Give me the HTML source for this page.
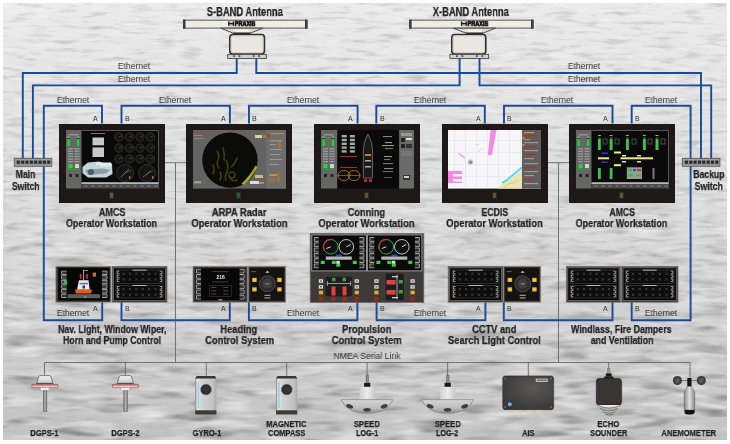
<!DOCTYPE html>
<html><head><meta charset="utf-8">
<style>
*{margin:0;padding:0;box-sizing:border-box}
html,body{width:730px;height:444px;overflow:hidden;background:#fff}
body{font-family:"Liberation Sans",sans-serif;position:relative}
.b,.r{position:absolute;white-space:nowrap;text-align:center;will-change:transform}
svg text{will-change:transform}
.b{font-weight:bold;color:#222;-webkit-text-stroke:0.25px #222}
.r{color:#333}
.abs{position:absolute}
#wrap{position:absolute;left:0;top:0;width:730px;height:444px;filter:blur(0.45px)}
svg{position:absolute;overflow:visible}
.mon{position:absolute;background:#1e1917;width:106px;height:79.5px;top:123.5px}
.mon svg{left:6px;top:6.5px;filter:blur(0.2px)}
.mbtn{position:absolute;left:50px;top:68.5px;width:5px;height:7px;background:#4a4a32;border:1px solid #2a2a20}
.pnl{position:absolute;top:266.3px;height:36px;background:#3b3836;border:1px solid #7a7774}
</style></head>
<body>
<div id="wrap">
<svg width="724" height="437" style="left:3px;top:3px">
<defs>
<linearGradient id="bgg" x1="0" y1="0" x2="0" y2="1">
<stop offset="0" stop-color="#ebebeb"/>
<stop offset="0.3" stop-color="#e2e2e2"/>
<stop offset="0.6" stop-color="#d6d6d6"/>
<stop offset="0.85" stop-color="#cacaca"/>
<stop offset="1" stop-color="#c2c2c2"/>
</linearGradient>
<linearGradient id="texT" x1="0" y1="0" x2="0" y2="1">
<stop offset="0" stop-color="#fff" stop-opacity="0.6"/>
<stop offset="0.6" stop-color="#fff" stop-opacity="0.7"/>
<stop offset="1" stop-color="#fff" stop-opacity="0.2"/>
</linearGradient>
<linearGradient id="texB" x1="0" y1="0" x2="0" y2="1">
<stop offset="0" stop-color="#fff" stop-opacity="0"/>
<stop offset="0.45" stop-color="#fff" stop-opacity="0.25"/>
<stop offset="1" stop-color="#fff" stop-opacity="1"/>
</linearGradient>
<mask id="mT"><rect width="724" height="437" fill="url(#texT)"/></mask>
<mask id="mB"><rect width="724" height="437" fill="url(#texB)"/></mask>
<filter id="fD" x="0" y="0" width="100%" height="100%">
<feTurbulence type="fractalNoise" baseFrequency="0.04 0.22" numOctaves="4" seed="3"/>
<feColorMatrix type="matrix" values="0 0 0 0 0  0 0 0 0 0  0 0 0 0 0  -2.4 0 0 0 1.2"/>
</filter>
<filter id="fL" x="0" y="0" width="100%" height="100%">
<feTurbulence type="fractalNoise" baseFrequency="0.038 0.2" numOctaves="4" seed="11"/>
<feColorMatrix type="matrix" values="0 0 0 0 1  0 0 0 0 1  0 0 0 0 1  2.4 0 0 0 -1.2"/>
</filter>
<filter id="fD2" x="0" y="0" width="100%" height="100%">
<feTurbulence type="fractalNoise" baseFrequency="0.022 0.11" numOctaves="2" seed="21"/>
<feColorMatrix type="matrix" values="0 0 0 0 0  0 0 0 0 0  0 0 0 0 0  -2.6 0 0 0 1.25"/>
</filter>
<filter id="fL2" x="0" y="0" width="100%" height="100%">
<feTurbulence type="fractalNoise" baseFrequency="0.024 0.12" numOctaves="2" seed="5"/>
<feColorMatrix type="matrix" values="0 0 0 0 1  0 0 0 0 1  0 0 0 0 1  2.6 0 0 0 -1.25"/>
</filter>
</defs>
<rect width="724" height="437" fill="url(#bgg)"/>
<g mask="url(#mT)">
<rect width="724" height="437" filter="url(#fD)" opacity="0.25"/>
<rect width="724" height="437" filter="url(#fL)" opacity="0.55"/>
</g>
<g mask="url(#mB)">
<rect width="724" height="437" filter="url(#fD2)" opacity="0.4"/>
<rect width="724" height="437" filter="url(#fL2)" opacity="0.6"/>
</g>
</svg>
<svg width="730" height="444" style="left:0;top:0" fill="none">
<g stroke="#666" stroke-width="0.9">
<path d="M164.7 162.7H186.2M175.5 162.7V362.5M546.8 162.7H569M558.5 162.7V362.5"/>
<path d="M44.5 362.5H690.5"/>
<path d="M44.5 362.5V375.5M125.3 362.5V375.5M206.3 362.5V376M286.7 362.5V376M528.3 362.5V376M690 362.5V377.5M367.1 362.5V376M447.6 362.5V376"/>
</g>
<g stroke="#1a4a93" stroke-width="1.9">
<path d="M22.8 158.3V73H236.7V58.5"/>
<path d="M256.3 58.5V73H701V158.3"/>
<path d="M32.9 158.3V85.4H459.6V58.5"/>
<path d="M479.5 58.5V85.4H711.2V158.3"/>
<path d="M43.8 158.3V105.8H102V123.5"/>
<path d="M121.5 123.5V105.8H229.9V123.5"/>
<path d="M249 123.5V105.8H357.6V123.5"/>
<path d="M376.3 123.5V105.8H484.8V123.5"/>
<path d="M504 123.5V105.8H612.5V123.5"/>
<path d="M631.7 123.5V105.8H690.6V158.3"/>
<path d="M43.8 166.3V320.3H102.2V302"/>
<path d="M121.5 302V320.3H229.8V302"/>
<path d="M248.9 302V320.3H357.4V302.6"/>
<path d="M376.6 302.6V320.3H485.4V302"/>
<path d="M503.8 302V320.3H612.5V302"/>
<path d="M631.7 302V320.3H690.6V166.3"/>
</g>
</svg>
<svg width="730" height="444" style="left:0;top:0">
<rect x="183.0" y="19.6" width="124.5" height="9.1" fill="#eeece5"/>
<rect x="183.6" y="20.2" width="123.3" height="7.9" fill="none" stroke="#6e6e6e" stroke-width="1.2"/>
<rect x="183.0" y="19.6" width="2.5" height="9.1" fill="#3a3a3a"/>
<rect x="305.0" y="19.6" width="2.5" height="9.1" fill="#3a3a3a"/>
<rect x="228.0" y="21" width="28" height="5.6" fill="#c9c5bd"/>
<text x="234.8" y="26.4" font-size="7.4" font-weight="bold" fill="#141414" stroke="#141414" stroke-width="0.7" textLength="20.5" lengthAdjust="spacingAndGlyphs" font-family="Liberation Sans">PRAXIS</text>
<path d="M228.8 21.6V25.8M228.8 23.7H233.4M233.4 21.6V25.8" stroke="#1a1a1a" stroke-width="1.3"/>
<path d="M220.8 28.2H262.8L250.2 33.2H233.2Z" fill="#dcd9d2" stroke="#3c3c3c" stroke-width="0.9"/>
<rect x="234.2" y="29.3" width="15" height="3" fill="#f2f0ea"/>
<rect x="233.2" y="32.6" width="17" height="1.6" fill="#2e2e2e"/>
<rect x="229.8" y="34.5" width="34.6" height="19.6" rx="3" fill="#ebe8e2" stroke="#2e2e2e" stroke-width="1.6"/>
<rect x="231.2" y="36" width="31.8" height="16.6" rx="2" fill="none" stroke="#c9c6bf" stroke-width="0.8"/>
<rect x="227.7" y="54.4" width="38.7" height="4.1" fill="#cfcfcf" stroke="#4a4a4a" stroke-width="0.9"/>
<rect x="233.2" y="55.3" width="1.6" height="1.6" fill="#333"/><rect x="238.7" y="55.3" width="1.6" height="1.6" fill="#333"/>
<rect x="252.8" y="55.3" width="1.6" height="1.6" fill="#333"/><rect x="258.3" y="55.3" width="1.6" height="1.6" fill="#333"/>
<rect x="409.1" y="19.6" width="124.4" height="9.1" fill="#eeece5"/>
<rect x="409.7" y="20.2" width="123.2" height="7.9" fill="none" stroke="#6e6e6e" stroke-width="1.2"/>
<rect x="409.1" y="19.6" width="2.5" height="9.1" fill="#3a3a3a"/>
<rect x="531.0" y="19.6" width="2.5" height="9.1" fill="#3a3a3a"/>
<rect x="460.8" y="21" width="28" height="5.6" fill="#c9c5bd"/>
<text x="467.6" y="26.4" font-size="7.4" font-weight="bold" fill="#141414" stroke="#141414" stroke-width="0.7" textLength="20.5" lengthAdjust="spacingAndGlyphs" font-family="Liberation Sans">PRAXIS</text>
<path d="M461.6 21.6V25.8M461.6 23.7H466.2M466.2 21.6V25.8" stroke="#1a1a1a" stroke-width="1.3"/>
<path d="M453.5 28.2H495.5L483.0 33.2H466.0Z" fill="#dcd9d2" stroke="#3c3c3c" stroke-width="0.9"/>
<rect x="467.0" y="29.3" width="15" height="3" fill="#f2f0ea"/>
<rect x="466.0" y="32.6" width="17" height="1.6" fill="#2e2e2e"/>
<rect x="451.8" y="34.5" width="34.0" height="19.6" rx="3" fill="#ebe8e2" stroke="#2e2e2e" stroke-width="1.6"/>
<rect x="453.2" y="36" width="31.2" height="16.6" rx="2" fill="none" stroke="#c9c6bf" stroke-width="0.8"/>
<rect x="449.9" y="54.4" width="38.7" height="4.1" fill="#cfcfcf" stroke="#4a4a4a" stroke-width="0.9"/>
<rect x="456.1" y="55.3" width="1.6" height="1.6" fill="#333"/><rect x="461.6" y="55.3" width="1.6" height="1.6" fill="#333"/>
<rect x="476.0" y="55.3" width="1.6" height="1.6" fill="#333"/><rect x="481.5" y="55.3" width="1.6" height="1.6" fill="#333"/>
<rect x="14.3" y="158.3" width="37.5" height="8" fill="#8d8d8d" stroke="#5a5a5a" stroke-width="0.9"/>
<rect x="15.3" y="159.3" width="35.5" height="6" fill="none" stroke="#a8a8a8" stroke-width="0.6"/>
<rect x="16.8" y="160.7" width="3" height="3" fill="#262626"/>
<rect x="21.2" y="160.7" width="3" height="3" fill="#262626"/>
<rect x="25.5" y="160.7" width="3" height="3" fill="#262626"/>
<rect x="29.9" y="160.7" width="3" height="3" fill="#262626"/>
<rect x="34.2" y="160.7" width="3" height="3" fill="#262626"/>
<rect x="38.6" y="160.7" width="3" height="3" fill="#262626"/>
<rect x="42.9" y="160.7" width="3" height="3" fill="#262626"/>
<rect x="47.3" y="160.7" width="3" height="3" fill="#262626"/>
<rect x="682.4" y="158.3" width="37.5" height="8" fill="#8d8d8d" stroke="#5a5a5a" stroke-width="0.9"/>
<rect x="683.4" y="159.3" width="35.5" height="6" fill="none" stroke="#a8a8a8" stroke-width="0.6"/>
<rect x="684.9" y="160.7" width="3" height="3" fill="#262626"/>
<rect x="689.3" y="160.7" width="3" height="3" fill="#262626"/>
<rect x="693.6" y="160.7" width="3" height="3" fill="#262626"/>
<rect x="698.0" y="160.7" width="3" height="3" fill="#262626"/>
<rect x="702.3" y="160.7" width="3" height="3" fill="#262626"/>
<rect x="706.7" y="160.7" width="3" height="3" fill="#262626"/>
<rect x="711.0" y="160.7" width="3" height="3" fill="#262626"/>
<rect x="715.4" y="160.7" width="3" height="3" fill="#262626"/>
</svg><div class="mon" style="left:59.0px"><svg width="93.0" height="58.6" style="left:6.5px;top:6.4px"><rect width="93.0" height="58.6" fill="#0a0a0a"/>
<rect x="0" y="0" width="15.5" height="58.6" fill="#666"/>
<rect x="2.5" y="4.3" width="10" height="1" fill="#aaa"/>
<rect x="1.3" y="6.5" width="2.6" height="10" fill="#1d3a1d"/>
<rect x="1.3" y="9" width="2.6" height="7.5" fill="#30c83c"/>
<rect x="1.3" y="6.5" width="2.6" height="1.2" fill="#d8b8b8"/>
<rect x="10.8" y="6.5" width="2.6" height="10" fill="#1d3a1d"/>
<rect x="10.8" y="9" width="2.6" height="7.5" fill="#30c83c"/>
<rect x="10.8" y="6.5" width="2.6" height="1.2" fill="#d8b8b8"/>
<rect x="2" y="18.0" width="5" height="1.3" fill="#9a9a9a"/><rect x="8.5" y="18.0" width="5" height="1.3" fill="#9a9a9a"/>
<rect x="2" y="20.6" width="5" height="1.3" fill="#9a9a9a"/><rect x="8.5" y="20.6" width="5" height="1.3" fill="#9a9a9a"/>
<rect x="2" y="23.2" width="5" height="1.3" fill="#9a9a9a"/><rect x="8.5" y="23.2" width="5" height="1.3" fill="#9a9a9a"/>
<rect x="2" y="25.8" width="5" height="1.3" fill="#9a9a9a"/><rect x="8.5" y="25.8" width="5" height="1.3" fill="#9a9a9a"/>
<rect x="2" y="28.4" width="5" height="1.3" fill="#9a9a9a"/><rect x="8.5" y="28.4" width="5" height="1.3" fill="#9a9a9a"/>
<rect x="2" y="31.0" width="5" height="1.3" fill="#9a9a9a"/><rect x="8.5" y="31.0" width="5" height="1.3" fill="#9a9a9a"/>
<rect x="2.5" y="34" width="4" height="4" fill="#2fd040"/><rect x="9" y="34" width="4" height="4" fill="#d8d0d0"/>
<rect x="2" y="38.5" width="5" height="1.5" fill="#2fa040"/><rect x="8.5" y="38.5" width="5" height="1.5" fill="#2fa040"/>
<rect x="3" y="44" width="3" height="3" fill="#222"/><rect x="9.5" y="44" width="3" height="3" fill="#222"/>
<rect x="15.5" y="0" width="77.5" height="1" fill="#555"/><rect x="92" y="0" width="1" height="58.6" fill="#555"/>
<rect x="26.5" y="7.5" width="11.5" height="7.8" fill="#c8c8c8"/><rect x="26.5" y="17.4" width="11.5" height="9.6" fill="#c8c8c8"/>
<rect x="25" y="3" width="14" height="1" fill="#777"/>
<path d="M16.5 37 L22 32.5 L33 31.5 L37 33 L46 33.5 L46.5 44 L40 47.5 L22 47.5 L16.5 43Z" fill="#c4d4dc"/><path d="M30 32.5H45V35H30Z" fill="#e4ecf0"/>
<path d="M19 40 L36 38.5 L44 40 L40 43.5 L22 45Z" fill="#8a9ca6"/><circle cx="25" cy="42" r="3" fill="#4e5c64"/><path d="M34 36H45" stroke="#fff" stroke-width="0.8"/>
<circle cx="53.0" cy="7.0" r="4.2" fill="#151515" stroke="#3e3e36" stroke-width="0.7"/><path d="M53.0 7.0L55.9 5.7" stroke="#807050" stroke-width="0.5"/>
<circle cx="63.5" cy="7.0" r="4.2" fill="#151515" stroke="#3e3e36" stroke-width="0.7"/><path d="M63.5 7.0L66.4 5.7" stroke="#807050" stroke-width="0.5"/>
<circle cx="74.0" cy="7.0" r="4.2" fill="#151515" stroke="#3e3e36" stroke-width="0.7"/><path d="M74.0 7.0L76.9 5.7" stroke="#807050" stroke-width="0.5"/>
<circle cx="84.5" cy="7.0" r="4.2" fill="#151515" stroke="#3e3e36" stroke-width="0.7"/><path d="M84.5 7.0L87.4 5.7" stroke="#807050" stroke-width="0.5"/>
<circle cx="53.0" cy="18.0" r="4.2" fill="#151515" stroke="#3e3e36" stroke-width="0.7"/><path d="M53.0 18.0L55.9 16.7" stroke="#807050" stroke-width="0.5"/>
<circle cx="63.5" cy="18.0" r="4.2" fill="#151515" stroke="#3e3e36" stroke-width="0.7"/><path d="M63.5 18.0L66.4 16.7" stroke="#807050" stroke-width="0.5"/>
<circle cx="74.0" cy="18.0" r="4.2" fill="#151515" stroke="#3e3e36" stroke-width="0.7"/><path d="M74.0 18.0L76.9 16.7" stroke="#807050" stroke-width="0.5"/>
<circle cx="84.5" cy="18.0" r="4.2" fill="#151515" stroke="#3e3e36" stroke-width="0.7"/><path d="M84.5 18.0L87.4 16.7" stroke="#807050" stroke-width="0.5"/>
<circle cx="53.0" cy="29.0" r="4.2" fill="#151515" stroke="#3e3e36" stroke-width="0.7"/><path d="M53.0 29.0L55.9 27.7" stroke="#807050" stroke-width="0.5"/>
<circle cx="63.5" cy="29.0" r="4.2" fill="#151515" stroke="#3e3e36" stroke-width="0.7"/><path d="M63.5 29.0L66.4 27.7" stroke="#807050" stroke-width="0.5"/>
<circle cx="74.0" cy="29.0" r="4.2" fill="#151515" stroke="#3e3e36" stroke-width="0.7"/><path d="M74.0 29.0L76.9 27.7" stroke="#807050" stroke-width="0.5"/>
<circle cx="84.5" cy="29.0" r="4.2" fill="#151515" stroke="#3e3e36" stroke-width="0.7"/><path d="M84.5 29.0L87.4 27.7" stroke="#807050" stroke-width="0.5"/>
<circle cx="59.0" cy="43.0" r="8.5" fill="#151515" stroke="#3e3e36" stroke-width="0.7"/><path d="M59.0 43.0L65.0 40.5" stroke="#807050" stroke-width="0.5"/>
<circle cx="81.0" cy="43.0" r="8.5" fill="#151515" stroke="#3e3e36" stroke-width="0.7"/><path d="M81.0 43.0L87.0 40.5" stroke="#807050" stroke-width="0.5"/>
<path d="M55 47L63 39M77 47L85 41" stroke="#a09060" stroke-width="0.7"/><rect x="63" y="46" width="1.5" height="3" fill="#c06020"/><rect x="86" y="46" width="1.5" height="3" fill="#c06020"/>
<rect x="15.5" y="52.2" width="77.0" height="1.8" fill="#b5b5b5"/>
<rect x="15.5" y="54" width="77.0" height="4.6" fill="#4a4a4a"/>
<rect x="18.5" y="55.5" width="3" height="1" fill="#888"/>
<rect x="25.5" y="55.5" width="3" height="1" fill="#888"/>
<rect x="32.5" y="55.5" width="3" height="1" fill="#888"/>
<rect x="39.5" y="55.5" width="3" height="1" fill="#888"/>
<rect x="46.5" y="55.5" width="3" height="1" fill="#888"/>
<rect x="53.5" y="55.5" width="3" height="1" fill="#888"/>
<rect x="60.5" y="55.5" width="3" height="1" fill="#888"/>
<rect x="67.5" y="55.5" width="3" height="1" fill="#888"/>
<rect x="74.5" y="55.5" width="3" height="1" fill="#888"/>
<rect x="81.5" y="55.5" width="3" height="1" fill="#888"/>
<rect x="88.5" y="55.5" width="3" height="1" fill="#888"/></svg><div class="mbtn" style="background:#5a5a38"></div></div>
<div class="mon" style="left:186.2px"><svg width="93.0" height="58.6" style="left:6.5px;top:6.4px"><rect width="93.0" height="58.6" fill="#636363"/>
<rect x="73.3" y="0" width="19.7" height="58.6" fill="#6e6e6e"/>
<circle cx="36.9" cy="30.1" r="27.7" fill="#0b0b08"/>
<g fill="none" stroke="#48480c" stroke-width="1.5" stroke-linecap="round" opacity="0.9">
<path d="M24 21 Q27 25 25 30 Q23 34 26 38"/><path d="M30 18 Q32 24 31 30"/><path d="M33 30 Q36 36 34 42 Q31 47 33 50"/><path d="M20 35 Q22 40 20 44"/><path d="M38 37 Q42 34 44 28"/><path d="M37 48 Q40 52 44 50"/><path d="M27 42 Q29 46 27 50"/>
</g>
<circle cx="39" cy="45" r="3" fill="none" stroke="#4a4a0c" stroke-width="1.2"/>
<path d="M51 55 Q59 48 64.3 37 L62.5 35.5 Q57 46 48.5 53.5Z" fill="#a8a820"/>
<rect x="62" y="5" width="7" height="3" fill="#d8d0a0"/><rect x="70" y="5" width="3" height="3" fill="#b08030"/><rect x="74" y="4.5" width="3" height="3" fill="#a04030"/><rect x="78" y="3" width="13" height="1.2" fill="#a89060"/>
<rect x="77" y="10" width="12" height="1.5" fill="#a89070"/><rect x="85" y="12" width="3" height="6" fill="#b07040"/><rect x="77" y="14" width="6" height="1" fill="#999"/><rect x="77" y="19" width="12" height="1" fill="#999"/><rect x="77" y="24" width="10" height="1" fill="#999"/><rect x="77" y="29" width="12" height="1" fill="#999"/><rect x="77" y="34" width="9" height="1" fill="#999"/>
<rect x="62" y="45" width="8" height="3" fill="#c8b890"/><rect x="76" y="44" width="8" height="2" fill="#b89060"/><rect x="84" y="42" width="3" height="10" fill="#a87030"/><rect x="57" y="51" width="9" height="3" fill="#ddd"/><rect x="76" y="48" width="6" height="5" fill="#987040"/><rect x="66" y="52" width="5" height="2" fill="#b09060"/>
<rect x="1" y="2" width="10" height="1.5" fill="#905050"/><rect x="1" y="5" width="8" height="1" fill="#888"/><rect x="1" y="8" width="10" height="1" fill="#888"/><rect x="1" y="51" width="7" height="2.5" fill="#999"/></svg><div class="mbtn" style="background:#2a5a30"></div></div>
<div class="mon" style="left:314.0px"><svg width="93.0" height="58.6" style="left:6.5px;top:6.4px"><rect width="93.0" height="58.6" fill="#0a0a0a"/>
<rect x="0" y="0" width="16.2" height="58.6" fill="#666"/>
<rect x="2.5" y="4.3" width="10" height="1" fill="#aaa"/>
<rect x="1.3" y="6.5" width="2.6" height="10" fill="#1d3a1d"/>
<rect x="1.3" y="9" width="2.6" height="7.5" fill="#30c83c"/>
<rect x="1.3" y="6.5" width="2.6" height="1.2" fill="#d8b8b8"/>
<rect x="10.8" y="6.5" width="2.6" height="10" fill="#1d3a1d"/>
<rect x="10.8" y="9" width="2.6" height="7.5" fill="#30c83c"/>
<rect x="10.8" y="6.5" width="2.6" height="1.2" fill="#d8b8b8"/>
<rect x="2" y="18.0" width="5" height="1.3" fill="#9a9a9a"/><rect x="8.5" y="18.0" width="5" height="1.3" fill="#9a9a9a"/>
<rect x="2" y="20.6" width="5" height="1.3" fill="#9a9a9a"/><rect x="8.5" y="20.6" width="5" height="1.3" fill="#9a9a9a"/>
<rect x="2" y="23.2" width="5" height="1.3" fill="#9a9a9a"/><rect x="8.5" y="23.2" width="5" height="1.3" fill="#9a9a9a"/>
<rect x="2" y="25.8" width="5" height="1.3" fill="#9a9a9a"/><rect x="8.5" y="25.8" width="5" height="1.3" fill="#9a9a9a"/>
<rect x="2" y="28.4" width="5" height="1.3" fill="#9a9a9a"/><rect x="8.5" y="28.4" width="5" height="1.3" fill="#9a9a9a"/>
<rect x="2" y="31.0" width="5" height="1.3" fill="#9a9a9a"/><rect x="8.5" y="31.0" width="5" height="1.3" fill="#9a9a9a"/>
<rect x="2.5" y="34" width="4" height="4" fill="#2fd040"/><rect x="9" y="34" width="4" height="4" fill="#d8d0d0"/>
<rect x="2" y="38.5" width="5" height="1.5" fill="#2fa040"/><rect x="8.5" y="38.5" width="5" height="1.5" fill="#2fa040"/>
<rect x="3" y="44" width="3" height="3" fill="#222"/><rect x="9.5" y="44" width="3" height="3" fill="#222"/>
<rect x="78.1" y="0" width="14.9" height="58.6" fill="#6a6a6a"/>
<rect x="80" y="3" width="11" height="3" fill="#999"/><rect x="80" y="8" width="4" height="4" fill="#222"/><rect x="85" y="8" width="6" height="2" fill="#ddd"/><rect x="80" y="14" width="4" height="4" fill="#222"/><rect x="85" y="14" width="6" height="4" fill="#333"/><rect x="80" y="21" width="11" height="5" fill="#777"/><rect x="82" y="45" width="7" height="5" fill="#333"/><rect x="83" y="46" width="5" height="2" fill="#ccc"/>
<rect x="20.7" y="5.0" width="5" height="2.4" fill="#a8a8a8"/>
<rect x="28.9" y="5.0" width="5" height="2.4" fill="#a8a8a8"/>
<rect x="20.7" y="8.8" width="5" height="2.4" fill="#a8a8a8"/>
<rect x="28.9" y="8.8" width="5" height="2.4" fill="#a8a8a8"/>
<rect x="20.7" y="12.6" width="5" height="2.4" fill="#a8a8a8"/>
<rect x="28.9" y="12.6" width="5" height="2.4" fill="#a8a8a8"/>
<rect x="20.7" y="16.4" width="5" height="2.4" fill="#a8a8a8"/>
<rect x="28.9" y="16.4" width="5" height="2.4" fill="#a8a8a8"/>
<rect x="20.7" y="20.2" width="5" height="2.4" fill="#a8a8a8"/>
<rect x="28.9" y="20.2" width="5" height="2.4" fill="#a8a8a8"/>
<rect x="19" y="26" width="17" height="1" fill="#c02020"/><rect x="19" y="37" width="17" height="1" fill="#c02020"/>
<ellipse cx="23" cy="45.5" rx="6" ry="5" fill="none" stroke="#d08020" stroke-width="0.8"/><ellipse cx="33" cy="45.5" rx="6" ry="5" fill="none" stroke="#d08020" stroke-width="0.8"/><path d="M17 45.5H39" stroke="#d08020" stroke-width="0.6"/>
<path d="M46.9 4 Q51.5 12 51.5 20 L51.5 48 L42.3 48 L42.3 20 Q42.3 12 46.9 4Z" fill="#1a1a1a" stroke="#888" stroke-width="0.7"/>
<rect x="44" y="24" width="6" height="2" fill="#c08030"/><rect x="44" y="30" width="6" height="1.5" fill="#aaa"/><rect x="44" y="36" width="6" height="1.5" fill="#aaa"/><rect x="43" y="49" width="3" height="3" fill="#c02020"/><rect x="48" y="49" width="3" height="3" fill="#c02020"/>
<rect x="62.0" y="6.0" width="9.0" height="1.1" fill="#8a8470"/>
<rect x="64.0" y="12.0" width="7.0" height="1.1" fill="#a09a70"/>
<rect x="61.0" y="15.0" width="12.0" height="1.1" fill="#a09a70"/>
<rect x="64.0" y="18.0" width="8.0" height="1.1" fill="#777"/>
<rect x="63.0" y="26.0" width="8.0" height="1.1" fill="#a09a70"/>
<rect x="63.0" y="29.0" width="6.0" height="1.1" fill="#8a7450"/>
<rect x="62.0" y="33.0" width="10.0" height="1.1" fill="#777"/>
<rect x="63.0" y="38.0" width="9.0" height="1.1" fill="#888"/>
<rect x="62.0" y="41.0" width="10.0" height="1.1" fill="#666"/>
<rect x="63.0" y="47.0" width="8.0" height="1.1" fill="#555"/></svg><div class="mbtn" style="background:#4a5a30"></div></div>
<div class="mon" style="left:441.7px"><svg width="93.0" height="58.6" style="left:6.5px;top:6.4px"><rect width="93.0" height="58.6" fill="#f6f6f8"/>
<rect x="6" y="0" width="0.5" height="58.6" fill="#dcdce2"/>
<rect x="17" y="0" width="0.5" height="58.6" fill="#dcdce2"/>
<rect x="28" y="0" width="0.5" height="58.6" fill="#dcdce2"/>
<rect x="39" y="0" width="0.5" height="58.6" fill="#dcdce2"/>
<rect x="50" y="0" width="0.5" height="58.6" fill="#dcdce2"/>
<rect x="61" y="0" width="0.5" height="58.6" fill="#dcdce2"/>
<rect x="72" y="0" width="0.5" height="58.6" fill="#dcdce2"/>
<rect x="0" y="10" width="74" height="0.5" fill="#e0e0e6"/>
<rect x="0" y="22" width="74" height="0.5" fill="#e0e0e6"/>
<rect x="0" y="34" width="74" height="0.5" fill="#e0e0e6"/>
<rect x="0" y="46" width="74" height="0.5" fill="#e0e0e6"/>
<path d="M42.6 0H48.5L44 25.1H39.8Z" fill="#f48ae6"/>
<path d="M0 41H14V44H5V46.5H14V49H5V51.5H14V53H0Z" fill="#f48ae6"/>
<path d="M10.5 23.5 L17 28" stroke="#f4a8ec" stroke-width="1.6"/>
<circle cx="22.4" cy="32.1" r="2.6" fill="#c0b4b4"/><circle cx="22.8" cy="32.3" r="1" fill="#806060"/>
<path d="M30 22 L34 18 M28 15 L31 14" stroke="#d0c8d0" stroke-width="0.8"/>
<path d="M74 40 L74 58.6 L50 58.6 L56 52 L62 49 L68 45Z" fill="#ece4b0"/>
<path d="M55 58.6 L60 54 L66 53 L70 50" stroke="#d8cc90" stroke-width="1" fill="none"/>
<path d="M74 37.5 L66 44 L59.4 49.6 L54 53" fill="none" stroke="#50dcf0" stroke-width="2"/>
<rect x="74" y="0" width="19" height="58.6" fill="#5e5e5e"/>
<rect x="76" y="2" width="10" height="1.2" fill="#c8a040"/>
<rect x="76" y="5" width="14" height="1.2" fill="#b03030"/>
<rect x="76" y="9" width="6" height="1.2" fill="#d08030"/>
<rect x="76" y="12" width="14" height="1.2" fill="#999"/>
<rect x="76" y="16" width="12" height="1.2" fill="#b03030"/>
<rect x="76" y="20" width="14" height="1.2" fill="#999"/>
<rect x="76" y="24" width="12" height="1.2" fill="#b03030"/>
<rect x="76" y="28" width="10" height="1.2" fill="#999"/>
<rect x="76" y="33" width="14" height="1.2" fill="#999"/>
<rect x="76" y="37" width="12" height="1.2" fill="#b03030"/>
<rect x="76" y="41" width="14" height="1.2" fill="#999"/>
<rect x="76" y="45" width="10" height="1.2" fill="#999"/>
<rect x="76" y="49" width="9" height="1.2" fill="#b03030"/>
<rect x="76" y="53" width="14" height="1.2" fill="#999"/>
<rect x="74.5" y="7" width="2" height="2" fill="#e08030"/><rect x="74.5" y="14" width="2" height="2" fill="#e08030"/></svg><div class="mbtn" style="background:#4a5a38"></div></div>
<div class="mon" style="left:569.0px"><svg width="93.0" height="58.6" style="left:6.5px;top:6.4px"><rect width="93.0" height="58.6" fill="#0a0a0a"/>
<rect x="0" y="0" width="15.5" height="58.6" fill="#666"/>
<rect x="2.5" y="4.3" width="10" height="1" fill="#aaa"/>
<rect x="1.3" y="6.5" width="2.6" height="10" fill="#1d3a1d"/>
<rect x="1.3" y="9" width="2.6" height="7.5" fill="#30c83c"/>
<rect x="1.3" y="6.5" width="2.6" height="1.2" fill="#d8b8b8"/>
<rect x="10.8" y="6.5" width="2.6" height="10" fill="#1d3a1d"/>
<rect x="10.8" y="9" width="2.6" height="7.5" fill="#30c83c"/>
<rect x="10.8" y="6.5" width="2.6" height="1.2" fill="#d8b8b8"/>
<rect x="2" y="18.0" width="5" height="1.3" fill="#9a9a9a"/><rect x="8.5" y="18.0" width="5" height="1.3" fill="#9a9a9a"/>
<rect x="2" y="20.6" width="5" height="1.3" fill="#9a9a9a"/><rect x="8.5" y="20.6" width="5" height="1.3" fill="#9a9a9a"/>
<rect x="2" y="23.2" width="5" height="1.3" fill="#9a9a9a"/><rect x="8.5" y="23.2" width="5" height="1.3" fill="#9a9a9a"/>
<rect x="2" y="25.8" width="5" height="1.3" fill="#9a9a9a"/><rect x="8.5" y="25.8" width="5" height="1.3" fill="#9a9a9a"/>
<rect x="2" y="28.4" width="5" height="1.3" fill="#9a9a9a"/><rect x="8.5" y="28.4" width="5" height="1.3" fill="#9a9a9a"/>
<rect x="2" y="31.0" width="5" height="1.3" fill="#9a9a9a"/><rect x="8.5" y="31.0" width="5" height="1.3" fill="#9a9a9a"/>
<rect x="2.5" y="34" width="4" height="4" fill="#2fd040"/><rect x="9" y="34" width="4" height="4" fill="#d8d0d0"/>
<rect x="2" y="38.5" width="5" height="1.5" fill="#2fa040"/><rect x="8.5" y="38.5" width="5" height="1.5" fill="#2fa040"/>
<rect x="3" y="44" width="3" height="3" fill="#222"/><rect x="9.5" y="44" width="3" height="3" fill="#222"/>
<rect x="15.5" y="0" width="77.5" height="1" fill="#555"/><rect x="92" y="0" width="1" height="58.6" fill="#555"/>
<rect x="22.0" y="7" width="2.8" height="13" fill="#1e4a24"/><rect x="22.0" y="9" width="2.8" height="11" fill="#3cc050"/>
<rect x="22.0" y="5" width="2.8" height="1" fill="#c8b040"/>
<rect x="33.7" y="7" width="2.8" height="13" fill="#1e4a24"/><rect x="33.7" y="9" width="2.8" height="11" fill="#3cc050"/>
<rect x="33.7" y="5" width="2.8" height="1" fill="#c8b040"/>
<rect x="50.0" y="7" width="2.8" height="13" fill="#1e4a24"/><rect x="50.0" y="9" width="2.8" height="11" fill="#3cc050"/>
<rect x="50.0" y="5" width="2.8" height="1" fill="#c8b040"/>
<rect x="67.0" y="7" width="2.8" height="13" fill="#1e4a24"/><rect x="67.0" y="9" width="2.8" height="11" fill="#3cc050"/>
<rect x="67.0" y="5" width="2.8" height="1" fill="#c8b040"/>
<rect x="79.6" y="7" width="2.8" height="13" fill="#1e4a24"/><rect x="79.6" y="9" width="2.8" height="11" fill="#3cc050"/>
<rect x="79.6" y="5" width="2.8" height="1" fill="#c8b040"/>
<rect x="27.0" y="9" width="4" height="5" fill="none" stroke="#777" stroke-width="0.6"/>
<rect x="39.0" y="9" width="4" height="5" fill="none" stroke="#777" stroke-width="0.6"/>
<rect x="56.0" y="9" width="4" height="5" fill="none" stroke="#777" stroke-width="0.6"/>
<rect x="72.0" y="9" width="4" height="5" fill="none" stroke="#777" stroke-width="0.6"/>
<rect x="85.0" y="9" width="4" height="5" fill="none" stroke="#777" stroke-width="0.6"/>
<rect x="22.0" y="38" width="2.8" height="11" fill="#3cc050"/>
<rect x="33.7" y="38" width="2.8" height="11" fill="#3cc050"/>
<rect x="76.5" y="38" width="2" height="11" fill="#777"/>
<rect x="38" y="21.5" width="7" height="2" fill="#f0ec80"/><rect x="38" y="34.2" width="7" height="2" fill="#f0ec80"/>
<rect x="22" y="27.3" width="11" height="2" fill="#f0ec80"/><rect x="44.5" y="27.3" width="32.5" height="2" fill="#f0ec80"/>
<rect x="25.6" y="22.5" width="6.3" height="1.5" fill="#2040d0"/><rect x="25.6" y="31.5" width="6.3" height="1.5" fill="#2040d0"/>
<rect x="50.8" y="37.3" width="15.2" height="11.7" fill="#9a9a9a"/><rect x="52" y="39" width="4" height="2.2" fill="#30c040"/><rect x="57" y="39" width="3" height="2.2" fill="#3050d0"/><rect x="61" y="39" width="4" height="2.2" fill="#d03030"/><rect x="52.5" y="44" width="4.5" height="2.5" fill="#30c040"/><rect x="60" y="44" width="4.5" height="2.5" fill="#30c040"/>
<rect x="46" y="25" width="4" height="1.5" fill="#ddd"/><rect x="61" y="25" width="4" height="1.5" fill="#ddd"/><rect x="46" y="31" width="4" height="1.5" fill="#ddd"/><rect x="61" y="31" width="4" height="1.5" fill="#ddd"/>
<rect x="15.5" y="52.2" width="77.0" height="1.8" fill="#b5b5b5"/>
<rect x="15.5" y="54" width="77.0" height="4.6" fill="#4a4a4a"/>
<rect x="18.5" y="55.5" width="3" height="1" fill="#888"/>
<rect x="25.5" y="55.5" width="3" height="1" fill="#888"/>
<rect x="32.5" y="55.5" width="3" height="1" fill="#888"/>
<rect x="39.5" y="55.5" width="3" height="1" fill="#888"/>
<rect x="46.5" y="55.5" width="3" height="1" fill="#888"/>
<rect x="53.5" y="55.5" width="3" height="1" fill="#888"/>
<rect x="60.5" y="55.5" width="3" height="1" fill="#888"/>
<rect x="67.5" y="55.5" width="3" height="1" fill="#888"/>
<rect x="74.5" y="55.5" width="3" height="1" fill="#888"/>
<rect x="81.5" y="55.5" width="3" height="1" fill="#888"/>
<rect x="88.5" y="55.5" width="3" height="1" fill="#888"/></svg><div class="mbtn" style="background:#5a5a38"></div></div><svg width="730" height="444" style="left:0;top:0">
<rect x="55.90" y="266.30" width="55.00" height="35.90" fill="#3c3937" stroke="#8c8884" stroke-width="0.8"/>
<rect x="58.2" y="267.8" width="51.3" height="32.8" fill="#070707"/>
<path d="M66.60 271.20H61.60V274.51H66.60" fill="none" stroke="#d4d4d4" stroke-width="0.75"/>
<path d="M66.60 272.30H62.80V273.41H66.60" fill="none" stroke="#777" stroke-width="0.5"/>
<path d="M66.60 275.80H61.60V279.11H66.60" fill="none" stroke="#d4d4d4" stroke-width="0.75"/>
<path d="M66.60 276.90H62.80V278.01H66.60" fill="none" stroke="#777" stroke-width="0.5"/>
<path d="M66.60 280.40H61.60V283.71H66.60" fill="none" stroke="#d4d4d4" stroke-width="0.75"/>
<path d="M66.60 281.50H62.80V282.61H66.60" fill="none" stroke="#777" stroke-width="0.5"/>
<path d="M66.60 285.00H61.60V288.31H66.60" fill="none" stroke="#d4d4d4" stroke-width="0.75"/>
<path d="M66.60 286.10H62.80V287.21H66.60" fill="none" stroke="#777" stroke-width="0.5"/>
<path d="M66.60 289.60H61.60V292.91H66.60" fill="none" stroke="#d4d4d4" stroke-width="0.75"/>
<path d="M66.60 290.70H62.80V291.81H66.60" fill="none" stroke="#777" stroke-width="0.5"/>
<path d="M66.60 294.20H61.60V297.51H66.60" fill="none" stroke="#d4d4d4" stroke-width="0.75"/>
<path d="M66.60 295.30H62.80V296.41H66.60" fill="none" stroke="#777" stroke-width="0.5"/>
<path d="M102.00 271.20H107.00V274.51H102.00" fill="none" stroke="#d4d4d4" stroke-width="0.75"/>
<path d="M102.00 272.30H105.80V273.41H102.00" fill="none" stroke="#777" stroke-width="0.5"/>
<path d="M102.00 275.80H107.00V279.11H102.00" fill="none" stroke="#d4d4d4" stroke-width="0.75"/>
<path d="M102.00 276.90H105.80V278.01H102.00" fill="none" stroke="#777" stroke-width="0.5"/>
<path d="M102.00 280.40H107.00V283.71H102.00" fill="none" stroke="#d4d4d4" stroke-width="0.75"/>
<path d="M102.00 281.50H105.80V282.61H102.00" fill="none" stroke="#777" stroke-width="0.5"/>
<path d="M102.00 285.00H107.00V288.31H102.00" fill="none" stroke="#d4d4d4" stroke-width="0.75"/>
<path d="M102.00 286.10H105.80V287.21H102.00" fill="none" stroke="#777" stroke-width="0.5"/>
<path d="M102.00 289.60H107.00V292.91H102.00" fill="none" stroke="#d4d4d4" stroke-width="0.75"/>
<path d="M102.00 290.70H105.80V291.81H102.00" fill="none" stroke="#777" stroke-width="0.5"/>
<path d="M102.00 294.20H107.00V297.51H102.00" fill="none" stroke="#d4d4d4" stroke-width="0.75"/>
<path d="M102.00 295.30H105.80V296.41H102.00" fill="none" stroke="#777" stroke-width="0.5"/>
<rect x="64" y="280.7" width="3.2" height="3.6" fill="#30c040"/>
<rect x="83.2" y="269.9" width="0.9" height="10.5" fill="#bbb"/><rect x="83" y="270.3" width="5" height="0.7" fill="#bbb"/>
<rect x="79.8" y="273.9" width="1.8" height="5" fill="#c03040"/><rect x="86.1" y="273.9" width="1.8" height="5" fill="#c03040"/>
<path d="M79 280.2H88.5L89.7 289.7H77Z" fill="#ececf0"/>
<rect x="79.5" y="282.8" width="8.5" height="1.6" fill="#6a6ab0"/><rect x="82.5" y="285.5" width="2.5" height="3" fill="#334"/>
<path d="M74.8 289.5H92L91 293.5H75.8Z" fill="#e85a1a"/>
<rect x="92.8" y="272.6" width="3.2" height="4" fill="#e06a20"/>
<rect x="67.6" y="294.2" width="32.4" height="4" fill="#56625a"/>
<rect x="84.6" y="296.3" width="1.3" height="1.3" fill="#e0c040"/>
<rect x="112.10" y="266.30" width="54.90" height="35.90" fill="#3a3836" stroke="#7a7672" stroke-width="0.8"/>
<rect x="113.70" y="267.90" width="51.70" height="32.70" fill="#080808" stroke="#9a9a9a" stroke-width="0.5"/>
<rect x="116.10" y="270.00" width="46.90" height="13.40" fill="#0c0c0c" stroke="#4a4a4a" stroke-width="0.6"/>
<rect x="132.55" y="269.70" width="14.00" height="0.9" fill="#c8c8c8"/>
<path d="M122.40 272.60l2.4 2.4m0 -2.4l-2.4 2.4" stroke="#4c4c4c" stroke-width="0.8"/>
<path d="M128.78 272.60l2.4 2.4m0 -2.4l-2.4 2.4" stroke="#4c4c4c" stroke-width="0.8"/>
<path d="M135.16 272.60l2.4 2.4m0 -2.4l-2.4 2.4" stroke="#4c4c4c" stroke-width="0.8"/>
<path d="M141.54 272.60l2.4 2.4m0 -2.4l-2.4 2.4" stroke="#4c4c4c" stroke-width="0.8"/>
<path d="M147.92 272.60l2.4 2.4m0 -2.4l-2.4 2.4" stroke="#4c4c4c" stroke-width="0.8"/>
<path d="M154.30 272.60l2.4 2.4m0 -2.4l-2.4 2.4" stroke="#4c4c4c" stroke-width="0.8"/>
<path d="M122.40 278.20l2.4 2.4m0 -2.4l-2.4 2.4" stroke="#4c4c4c" stroke-width="0.8"/>
<path d="M128.78 278.20l2.4 2.4m0 -2.4l-2.4 2.4" stroke="#4c4c4c" stroke-width="0.8"/>
<path d="M135.16 278.20l2.4 2.4m0 -2.4l-2.4 2.4" stroke="#4c4c4c" stroke-width="0.8"/>
<path d="M141.54 278.20l2.4 2.4m0 -2.4l-2.4 2.4" stroke="#4c4c4c" stroke-width="0.8"/>
<path d="M147.92 278.20l2.4 2.4m0 -2.4l-2.4 2.4" stroke="#4c4c4c" stroke-width="0.8"/>
<path d="M154.30 278.20l2.4 2.4m0 -2.4l-2.4 2.4" stroke="#4c4c4c" stroke-width="0.8"/>
<path d="M119.40 271.20H117.30V273.80H119.40" fill="none" stroke="#d0d0d0" stroke-width="0.7"/>
<path d="M159.70 271.20H161.80V273.80H159.70" fill="none" stroke="#d0d0d0" stroke-width="0.7"/>
<path d="M119.40 275.10H117.30V277.70H119.40" fill="none" stroke="#d0d0d0" stroke-width="0.7"/>
<path d="M159.70 275.10H161.80V277.70H159.70" fill="none" stroke="#d0d0d0" stroke-width="0.7"/>
<path d="M119.40 279.00H117.30V281.60H119.40" fill="none" stroke="#d0d0d0" stroke-width="0.7"/>
<path d="M159.70 279.00H161.80V281.60H159.70" fill="none" stroke="#d0d0d0" stroke-width="0.7"/>
<rect x="116.10" y="285.30" width="46.90" height="12.60" fill="#0c0c0c" stroke="#4a4a4a" stroke-width="0.6"/>
<rect x="132.55" y="285.00" width="14.00" height="0.9" fill="#c8c8c8"/>
<path d="M122.40 287.90l2.4 2.4m0 -2.4l-2.4 2.4" stroke="#4c4c4c" stroke-width="0.8"/>
<path d="M128.78 287.90l2.4 2.4m0 -2.4l-2.4 2.4" stroke="#4c4c4c" stroke-width="0.8"/>
<path d="M135.16 287.90l2.4 2.4m0 -2.4l-2.4 2.4" stroke="#4c4c4c" stroke-width="0.8"/>
<path d="M141.54 287.90l2.4 2.4m0 -2.4l-2.4 2.4" stroke="#4c4c4c" stroke-width="0.8"/>
<path d="M147.92 287.90l2.4 2.4m0 -2.4l-2.4 2.4" stroke="#4c4c4c" stroke-width="0.8"/>
<path d="M154.30 287.90l2.4 2.4m0 -2.4l-2.4 2.4" stroke="#4c4c4c" stroke-width="0.8"/>
<path d="M122.40 293.50l2.4 2.4m0 -2.4l-2.4 2.4" stroke="#4c4c4c" stroke-width="0.8"/>
<path d="M128.78 293.50l2.4 2.4m0 -2.4l-2.4 2.4" stroke="#4c4c4c" stroke-width="0.8"/>
<path d="M135.16 293.50l2.4 2.4m0 -2.4l-2.4 2.4" stroke="#4c4c4c" stroke-width="0.8"/>
<path d="M141.54 293.50l2.4 2.4m0 -2.4l-2.4 2.4" stroke="#4c4c4c" stroke-width="0.8"/>
<path d="M147.92 293.50l2.4 2.4m0 -2.4l-2.4 2.4" stroke="#4c4c4c" stroke-width="0.8"/>
<path d="M154.30 293.50l2.4 2.4m0 -2.4l-2.4 2.4" stroke="#4c4c4c" stroke-width="0.8"/>
<path d="M119.40 286.50H117.30V289.10H119.40" fill="none" stroke="#d0d0d0" stroke-width="0.7"/>
<path d="M159.70 286.50H161.80V289.10H159.70" fill="none" stroke="#d0d0d0" stroke-width="0.7"/>
<path d="M119.40 290.40H117.30V293.00H119.40" fill="none" stroke="#d0d0d0" stroke-width="0.7"/>
<path d="M159.70 290.40H161.80V293.00H159.70" fill="none" stroke="#d0d0d0" stroke-width="0.7"/>
<path d="M119.40 294.30H117.30V296.90H119.40" fill="none" stroke="#d0d0d0" stroke-width="0.7"/>
<path d="M159.70 294.30H161.80V296.90H159.70" fill="none" stroke="#d0d0d0" stroke-width="0.7"/>
<rect x="193.00" y="266.30" width="54.60" height="35.90" fill="#3c3937" stroke="#8c8884" stroke-width="0.8"/>
<rect x="195.50" y="268.30" width="49.60" height="31.90" fill="#070707"/>
<path d="M201.00 269.30H196.50V273.04H201.00" fill="none" stroke="#d4d4d4" stroke-width="0.75"/>
<path d="M201.00 270.40H197.70V271.94H201.00" fill="none" stroke="#777" stroke-width="0.5"/>
<path d="M201.00 274.50H196.50V278.24H201.00" fill="none" stroke="#d4d4d4" stroke-width="0.75"/>
<path d="M201.00 275.60H197.70V277.14H201.00" fill="none" stroke="#777" stroke-width="0.5"/>
<path d="M201.00 279.70H196.50V283.44H201.00" fill="none" stroke="#d4d4d4" stroke-width="0.75"/>
<path d="M201.00 280.80H197.70V282.34H201.00" fill="none" stroke="#777" stroke-width="0.5"/>
<path d="M201.00 284.90H196.50V288.64H201.00" fill="none" stroke="#d4d4d4" stroke-width="0.75"/>
<path d="M201.00 286.00H197.70V287.54H201.00" fill="none" stroke="#777" stroke-width="0.5"/>
<path d="M201.00 290.10H196.50V293.84H201.00" fill="none" stroke="#d4d4d4" stroke-width="0.75"/>
<path d="M201.00 291.20H197.70V292.74H201.00" fill="none" stroke="#777" stroke-width="0.5"/>
<path d="M201.00 295.30H196.50V299.04H201.00" fill="none" stroke="#d4d4d4" stroke-width="0.75"/>
<path d="M201.00 296.40H197.70V297.94H201.00" fill="none" stroke="#777" stroke-width="0.5"/>
<path d="M239.60 269.30H244.10V273.04H239.60" fill="none" stroke="#d4d4d4" stroke-width="0.75"/>
<path d="M239.60 270.40H242.90V271.94H239.60" fill="none" stroke="#777" stroke-width="0.5"/>
<path d="M239.60 274.50H244.10V278.24H239.60" fill="none" stroke="#d4d4d4" stroke-width="0.75"/>
<path d="M239.60 275.60H242.90V277.14H239.60" fill="none" stroke="#777" stroke-width="0.5"/>
<path d="M239.60 279.70H244.10V283.44H239.60" fill="none" stroke="#d4d4d4" stroke-width="0.75"/>
<path d="M239.60 280.80H242.90V282.34H239.60" fill="none" stroke="#777" stroke-width="0.5"/>
<path d="M239.60 284.90H244.10V288.64H239.60" fill="none" stroke="#d4d4d4" stroke-width="0.75"/>
<path d="M239.60 286.00H242.90V287.54H239.60" fill="none" stroke="#777" stroke-width="0.5"/>
<path d="M239.60 290.10H244.10V293.84H239.60" fill="none" stroke="#d4d4d4" stroke-width="0.75"/>
<path d="M239.60 291.20H242.90V292.74H239.60" fill="none" stroke="#777" stroke-width="0.5"/>
<path d="M239.60 295.30H244.10V299.04H239.60" fill="none" stroke="#d4d4d4" stroke-width="0.75"/>
<path d="M239.60 296.40H242.90V297.94H239.60" fill="none" stroke="#777" stroke-width="0.5"/>
<text x="220.60" y="278.90" font-size="6" font-weight="bold" fill="#f0f0f0" text-anchor="middle" font-family="Liberation Sans" textLength="8.3" lengthAdjust="spacingAndGlyphs">216</text>
<rect x="212.30" y="271.50" width="16" height="0.6" fill="#666"/><rect x="212.30" y="281.60" width="16" height="0.7" fill="#6a4a4a"/>
<rect x="209.30" y="285.30" width="22" height="11" fill="none" stroke="#444" stroke-width="0.5"/>
<rect x="211.30" y="287.30" width="5" height="0.7" fill="#666"/><rect x="223.30" y="287.30" width="5" height="0.7" fill="#666"/>
<rect x="211.30" y="290.50" width="5" height="0.7" fill="#666"/><rect x="223.30" y="290.50" width="5" height="0.7" fill="#666"/>
<rect x="211.30" y="293.70" width="5" height="0.7" fill="#666"/><rect x="223.30" y="293.70" width="5" height="0.7" fill="#666"/>
<rect x="218.30" y="299.30" width="4" height="1.2" fill="#aaa"/>
<rect x="248.20" y="266.30" width="37.50" height="35.90" fill="#3c3937" stroke="#8c8884" stroke-width="0.8"/>
<rect x="249.70" y="267.80" width="34.50" height="32.90" fill="#141312"/>
<circle cx="267.45" cy="283.80" r="8" fill="#2c2c2c" stroke="#555" stroke-width="0.8"/>
<circle cx="267.45" cy="283.80" r="5" fill="#3e3e3e"/>
<rect x="265.45" y="283.00" width="4" height="1.6" fill="#777"/>
<path d="M267.45 270.80l2 2h-4z" fill="#ddd"/>
<rect x="264.45" y="294.80" width="6" height="1" fill="#bbb"/><rect x="264.45" y="297.30" width="6" height="1.2" fill="#999"/>
<rect x="252.20" y="277.80" width="4.5" height="4.2" fill="#e0b020"/>
<rect x="253.20" y="278.80" width="2.5" height="2.2" fill="#f0d060"/>
<rect x="252.20" y="287.30" width="4.5" height="4.2" fill="#e0b020"/>
<rect x="253.20" y="288.30" width="2.5" height="2.2" fill="#f0d060"/>
<rect x="277.20" y="277.80" width="4.5" height="4.2" fill="#e0b020"/>
<rect x="278.20" y="278.80" width="2.5" height="2.2" fill="#f0d060"/>
<rect x="277.20" y="287.30" width="4.5" height="4.2" fill="#e0b020"/>
<rect x="278.20" y="288.30" width="2.5" height="2.2" fill="#f0d060"/>
<rect x="251.20" y="271.30" width="5" height="0.8" fill="#777"/>
<rect x="310.20" y="233.50" width="113.60" height="69.00" fill="#3d3a38" stroke="#6c6966" stroke-width="0.8"/>
<rect x="311.80" y="234.9" width="54.6" height="36" fill="#0a0a0a" stroke="#a8a8a8" stroke-width="0.9"/>
<path d="M318.80 237.50H314.30V241.32H318.80" fill="none" stroke="#d4d4d4" stroke-width="0.75"/>
<path d="M318.80 238.60H315.50V240.22H318.80" fill="none" stroke="#777" stroke-width="0.5"/>
<path d="M318.80 242.80H314.30V246.62H318.80" fill="none" stroke="#d4d4d4" stroke-width="0.75"/>
<path d="M318.80 243.90H315.50V245.52H318.80" fill="none" stroke="#777" stroke-width="0.5"/>
<path d="M318.80 248.10H314.30V251.92H318.80" fill="none" stroke="#d4d4d4" stroke-width="0.75"/>
<path d="M318.80 249.20H315.50V250.82H318.80" fill="none" stroke="#777" stroke-width="0.5"/>
<path d="M318.80 253.40H314.30V257.22H318.80" fill="none" stroke="#d4d4d4" stroke-width="0.75"/>
<path d="M318.80 254.50H315.50V256.12H318.80" fill="none" stroke="#777" stroke-width="0.5"/>
<path d="M318.80 258.70H314.30V262.52H318.80" fill="none" stroke="#d4d4d4" stroke-width="0.75"/>
<path d="M318.80 259.80H315.50V261.42H318.80" fill="none" stroke="#777" stroke-width="0.5"/>
<path d="M318.80 264.00H314.30V267.82H318.80" fill="none" stroke="#d4d4d4" stroke-width="0.75"/>
<path d="M318.80 265.10H315.50V266.72H318.80" fill="none" stroke="#777" stroke-width="0.5"/>
<path d="M359.40 237.50H363.90V241.32H359.40" fill="none" stroke="#d4d4d4" stroke-width="0.75"/>
<path d="M359.40 238.60H362.70V240.22H359.40" fill="none" stroke="#777" stroke-width="0.5"/>
<path d="M359.40 242.80H363.90V246.62H359.40" fill="none" stroke="#d4d4d4" stroke-width="0.75"/>
<path d="M359.40 243.90H362.70V245.52H359.40" fill="none" stroke="#777" stroke-width="0.5"/>
<path d="M359.40 248.10H363.90V251.92H359.40" fill="none" stroke="#d4d4d4" stroke-width="0.75"/>
<path d="M359.40 249.20H362.70V250.82H359.40" fill="none" stroke="#777" stroke-width="0.5"/>
<path d="M359.40 253.40H363.90V257.22H359.40" fill="none" stroke="#d4d4d4" stroke-width="0.75"/>
<path d="M359.40 254.50H362.70V256.12H359.40" fill="none" stroke="#777" stroke-width="0.5"/>
<path d="M359.40 258.70H363.90V262.52H359.40" fill="none" stroke="#d4d4d4" stroke-width="0.75"/>
<path d="M359.40 259.80H362.70V261.42H359.40" fill="none" stroke="#777" stroke-width="0.5"/>
<path d="M359.40 264.00H363.90V267.82H359.40" fill="none" stroke="#d4d4d4" stroke-width="0.75"/>
<path d="M359.40 265.10H362.70V266.72H359.40" fill="none" stroke="#777" stroke-width="0.5"/>
<circle cx="330.80" cy="246.8" r="7.3" fill="#101010" stroke="#30b040" stroke-width="1"/>
<path d="M324.50 250.50A7.3 7.3 0 0 1 332.30 239.60" fill="none" stroke="#d03030" stroke-width="1.1"/>
<path d="M330.80 246.8L326.30 248.5" stroke="#eee" stroke-width="0.9"/>
<circle cx="346.30" cy="246.8" r="7.3" fill="#101010" stroke="#c8c8c8" stroke-width="1"/>
<path d="M346.30 246.8L350.80 244.5" stroke="#eee" stroke-width="0.9"/>
<rect x="335.80" y="254.5" width="6" height="2" fill="#2050d0"/>
<rect x="325.80" y="256.5" width="26" height="3.2" fill="#b8b8b8"/>
<rect x="320.80" y="260.8" width="4" height="3.2" fill="#30d040"/><rect x="331.80" y="260.8" width="4" height="3.2" fill="#30d040"/><rect x="336.30" y="260.8" width="3.5" height="3.2" fill="#ddd"/><rect x="336.30" y="263.5" width="4" height="3.2" fill="#30d040"/><rect x="352.80" y="260.8" width="4" height="3.2" fill="#30d040"/>
<rect x="367.30" y="234.9" width="54.6" height="36" fill="#0a0a0a" stroke="#a8a8a8" stroke-width="0.9"/>
<path d="M374.30 237.50H369.80V241.32H374.30" fill="none" stroke="#d4d4d4" stroke-width="0.75"/>
<path d="M374.30 238.60H371.00V240.22H374.30" fill="none" stroke="#777" stroke-width="0.5"/>
<path d="M374.30 242.80H369.80V246.62H374.30" fill="none" stroke="#d4d4d4" stroke-width="0.75"/>
<path d="M374.30 243.90H371.00V245.52H374.30" fill="none" stroke="#777" stroke-width="0.5"/>
<path d="M374.30 248.10H369.80V251.92H374.30" fill="none" stroke="#d4d4d4" stroke-width="0.75"/>
<path d="M374.30 249.20H371.00V250.82H374.30" fill="none" stroke="#777" stroke-width="0.5"/>
<path d="M374.30 253.40H369.80V257.22H374.30" fill="none" stroke="#d4d4d4" stroke-width="0.75"/>
<path d="M374.30 254.50H371.00V256.12H374.30" fill="none" stroke="#777" stroke-width="0.5"/>
<path d="M374.30 258.70H369.80V262.52H374.30" fill="none" stroke="#d4d4d4" stroke-width="0.75"/>
<path d="M374.30 259.80H371.00V261.42H374.30" fill="none" stroke="#777" stroke-width="0.5"/>
<path d="M374.30 264.00H369.80V267.82H374.30" fill="none" stroke="#d4d4d4" stroke-width="0.75"/>
<path d="M374.30 265.10H371.00V266.72H374.30" fill="none" stroke="#777" stroke-width="0.5"/>
<path d="M414.90 237.50H419.40V241.32H414.90" fill="none" stroke="#d4d4d4" stroke-width="0.75"/>
<path d="M414.90 238.60H418.20V240.22H414.90" fill="none" stroke="#777" stroke-width="0.5"/>
<path d="M414.90 242.80H419.40V246.62H414.90" fill="none" stroke="#d4d4d4" stroke-width="0.75"/>
<path d="M414.90 243.90H418.20V245.52H414.90" fill="none" stroke="#777" stroke-width="0.5"/>
<path d="M414.90 248.10H419.40V251.92H414.90" fill="none" stroke="#d4d4d4" stroke-width="0.75"/>
<path d="M414.90 249.20H418.20V250.82H414.90" fill="none" stroke="#777" stroke-width="0.5"/>
<path d="M414.90 253.40H419.40V257.22H414.90" fill="none" stroke="#d4d4d4" stroke-width="0.75"/>
<path d="M414.90 254.50H418.20V256.12H414.90" fill="none" stroke="#777" stroke-width="0.5"/>
<path d="M414.90 258.70H419.40V262.52H414.90" fill="none" stroke="#d4d4d4" stroke-width="0.75"/>
<path d="M414.90 259.80H418.20V261.42H414.90" fill="none" stroke="#777" stroke-width="0.5"/>
<path d="M414.90 264.00H419.40V267.82H414.90" fill="none" stroke="#d4d4d4" stroke-width="0.75"/>
<path d="M414.90 265.10H418.20V266.72H414.90" fill="none" stroke="#777" stroke-width="0.5"/>
<circle cx="386.30" cy="246.8" r="7.3" fill="#101010" stroke="#30b040" stroke-width="1"/>
<path d="M380.00 250.50A7.3 7.3 0 0 1 387.80 239.60" fill="none" stroke="#d03030" stroke-width="1.1"/>
<path d="M386.30 246.8L381.80 248.5" stroke="#eee" stroke-width="0.9"/>
<circle cx="401.80" cy="246.8" r="7.3" fill="#101010" stroke="#c8c8c8" stroke-width="1"/>
<path d="M401.80 246.8L406.30 244.5" stroke="#eee" stroke-width="0.9"/>
<rect x="391.30" y="254.5" width="6" height="2" fill="#2050d0"/>
<rect x="381.30" y="256.5" width="26" height="3.2" fill="#b8b8b8"/>
<rect x="376.30" y="260.8" width="4" height="3.2" fill="#30d040"/><rect x="387.30" y="260.8" width="4" height="3.2" fill="#30d040"/><rect x="391.80" y="260.8" width="3.5" height="3.2" fill="#ddd"/><rect x="391.80" y="263.5" width="4" height="3.2" fill="#30d040"/><rect x="408.30" y="260.8" width="4" height="3.2" fill="#30d040"/>
<rect x="318.80" y="279.3" width="4.2" height="3.4" fill="#e8e8e8"/><rect x="318.80" y="285.2" width="4.2" height="3.4" fill="#e8e8e8"/><rect x="318.80" y="290.7" width="4.2" height="3.6" fill="#e0b020"/><rect x="318.80" y="296.8" width="4.2" height="4" fill="#a02818"/>
<rect x="319.90" y="280.5" width="2" height="1" fill="#333"/><rect x="319.90" y="286.4" width="2" height="1" fill="#333"/>
<rect x="354.70" y="279.3" width="4.2" height="3.4" fill="#e8e8e8"/><rect x="354.70" y="285.2" width="4.2" height="3.4" fill="#e8e8e8"/><rect x="354.70" y="290.7" width="4.2" height="3.6" fill="#e0b020"/><rect x="354.70" y="296.8" width="4.2" height="4" fill="#a02818"/>
<rect x="355.80" y="280.5" width="2" height="1" fill="#333"/><rect x="355.80" y="286.4" width="2" height="1" fill="#333"/>
<rect x="374.30" y="279.3" width="4.2" height="3.4" fill="#e8e8e8"/><rect x="374.30" y="285.2" width="4.2" height="3.4" fill="#e8e8e8"/><rect x="374.30" y="290.7" width="4.2" height="3.6" fill="#e0b020"/><rect x="374.30" y="296.8" width="4.2" height="4" fill="#a02818"/>
<rect x="375.40" y="280.5" width="2" height="1" fill="#333"/><rect x="375.40" y="286.4" width="2" height="1" fill="#333"/>
<rect x="410.50" y="279.3" width="4.2" height="3.4" fill="#e8e8e8"/><rect x="410.50" y="285.2" width="4.2" height="3.4" fill="#e8e8e8"/><rect x="410.50" y="290.7" width="4.2" height="3.6" fill="#e0b020"/><rect x="410.50" y="296.8" width="4.2" height="4" fill="#a02818"/>
<rect x="411.60" y="280.5" width="2" height="1" fill="#333"/><rect x="411.60" y="286.4" width="2" height="1" fill="#333"/>
<rect x="325.5" y="276.8" width="26.7" height="19.5" rx="2" fill="#1e1e1e"/>
<rect x="332" y="277.8" width="3.5" height="3.5" fill="#40a040"/><rect x="342.5" y="277.8" width="3.5" height="3.5" fill="#40a040"/>
<rect x="326.5" y="283" width="25" height="1" fill="#999"/><rect x="327" y="281" width="1" height="5" fill="#999"/><rect x="350" y="281" width="1" height="5" fill="#999"/>
<rect x="331.5" y="286.5" width="4" height="9" fill="#e04040"/><rect x="342.5" y="286.5" width="4" height="9" fill="#e04040"/>
<rect x="331.5" y="297" width="4" height="4" fill="#a02818"/><rect x="342.5" y="297" width="4" height="4" fill="#a02818"/>
<rect x="385.5" y="273.5" width="18.3" height="26.7" rx="1.5" fill="#1e1e1e"/>
<rect x="386.5" y="280" width="9" height="4.5" fill="#e04040"/><rect x="386.5" y="290" width="9" height="4.5" fill="#e04040"/>
<rect x="398.8" y="280" width="4" height="3.5" fill="#40a040"/><rect x="398.8" y="290" width="4" height="3.5" fill="#40a040"/>
<rect x="396.5" y="274.5" width="1" height="25" fill="#aaa"/><rect x="392" y="276" width="6" height="1.3" fill="#ccc"/><rect x="392" y="297" width="6" height="1.3" fill="#ccc"/>
<rect x="448.20" y="266.30" width="54.80" height="35.90" fill="#3a3836" stroke="#7a7672" stroke-width="0.8"/>
<rect x="449.80" y="267.90" width="51.60" height="32.70" fill="#080808" stroke="#9a9a9a" stroke-width="0.5"/>
<rect x="452.20" y="270.00" width="46.80" height="13.40" fill="#0c0c0c" stroke="#4a4a4a" stroke-width="0.6"/>
<rect x="468.60" y="269.70" width="14.00" height="0.9" fill="#c8c8c8"/>
<path d="M458.50 272.60l2.4 2.4m0 -2.4l-2.4 2.4" stroke="#4c4c4c" stroke-width="0.8"/>
<path d="M464.86 272.60l2.4 2.4m0 -2.4l-2.4 2.4" stroke="#4c4c4c" stroke-width="0.8"/>
<path d="M471.22 272.60l2.4 2.4m0 -2.4l-2.4 2.4" stroke="#4c4c4c" stroke-width="0.8"/>
<path d="M477.58 272.60l2.4 2.4m0 -2.4l-2.4 2.4" stroke="#4c4c4c" stroke-width="0.8"/>
<path d="M483.94 272.60l2.4 2.4m0 -2.4l-2.4 2.4" stroke="#4c4c4c" stroke-width="0.8"/>
<path d="M490.30 272.60l2.4 2.4m0 -2.4l-2.4 2.4" stroke="#4c4c4c" stroke-width="0.8"/>
<path d="M458.50 278.20l2.4 2.4m0 -2.4l-2.4 2.4" stroke="#4c4c4c" stroke-width="0.8"/>
<path d="M464.86 278.20l2.4 2.4m0 -2.4l-2.4 2.4" stroke="#4c4c4c" stroke-width="0.8"/>
<path d="M471.22 278.20l2.4 2.4m0 -2.4l-2.4 2.4" stroke="#4c4c4c" stroke-width="0.8"/>
<path d="M477.58 278.20l2.4 2.4m0 -2.4l-2.4 2.4" stroke="#4c4c4c" stroke-width="0.8"/>
<path d="M483.94 278.20l2.4 2.4m0 -2.4l-2.4 2.4" stroke="#4c4c4c" stroke-width="0.8"/>
<path d="M490.30 278.20l2.4 2.4m0 -2.4l-2.4 2.4" stroke="#4c4c4c" stroke-width="0.8"/>
<path d="M455.50 271.20H453.40V273.80H455.50" fill="none" stroke="#d0d0d0" stroke-width="0.7"/>
<path d="M495.70 271.20H497.80V273.80H495.70" fill="none" stroke="#d0d0d0" stroke-width="0.7"/>
<path d="M455.50 275.10H453.40V277.70H455.50" fill="none" stroke="#d0d0d0" stroke-width="0.7"/>
<path d="M495.70 275.10H497.80V277.70H495.70" fill="none" stroke="#d0d0d0" stroke-width="0.7"/>
<path d="M455.50 279.00H453.40V281.60H455.50" fill="none" stroke="#d0d0d0" stroke-width="0.7"/>
<path d="M495.70 279.00H497.80V281.60H495.70" fill="none" stroke="#d0d0d0" stroke-width="0.7"/>
<rect x="452.20" y="285.30" width="46.80" height="12.60" fill="#0c0c0c" stroke="#4a4a4a" stroke-width="0.6"/>
<rect x="468.60" y="285.00" width="14.00" height="0.9" fill="#c8c8c8"/>
<path d="M458.50 287.90l2.4 2.4m0 -2.4l-2.4 2.4" stroke="#4c4c4c" stroke-width="0.8"/>
<path d="M464.86 287.90l2.4 2.4m0 -2.4l-2.4 2.4" stroke="#4c4c4c" stroke-width="0.8"/>
<path d="M471.22 287.90l2.4 2.4m0 -2.4l-2.4 2.4" stroke="#4c4c4c" stroke-width="0.8"/>
<path d="M477.58 287.90l2.4 2.4m0 -2.4l-2.4 2.4" stroke="#4c4c4c" stroke-width="0.8"/>
<path d="M483.94 287.90l2.4 2.4m0 -2.4l-2.4 2.4" stroke="#4c4c4c" stroke-width="0.8"/>
<path d="M490.30 287.90l2.4 2.4m0 -2.4l-2.4 2.4" stroke="#4c4c4c" stroke-width="0.8"/>
<path d="M458.50 293.50l2.4 2.4m0 -2.4l-2.4 2.4" stroke="#4c4c4c" stroke-width="0.8"/>
<path d="M464.86 293.50l2.4 2.4m0 -2.4l-2.4 2.4" stroke="#4c4c4c" stroke-width="0.8"/>
<path d="M471.22 293.50l2.4 2.4m0 -2.4l-2.4 2.4" stroke="#4c4c4c" stroke-width="0.8"/>
<path d="M477.58 293.50l2.4 2.4m0 -2.4l-2.4 2.4" stroke="#4c4c4c" stroke-width="0.8"/>
<path d="M483.94 293.50l2.4 2.4m0 -2.4l-2.4 2.4" stroke="#4c4c4c" stroke-width="0.8"/>
<path d="M490.30 293.50l2.4 2.4m0 -2.4l-2.4 2.4" stroke="#4c4c4c" stroke-width="0.8"/>
<path d="M455.50 286.50H453.40V289.10H455.50" fill="none" stroke="#d0d0d0" stroke-width="0.7"/>
<path d="M495.70 286.50H497.80V289.10H495.70" fill="none" stroke="#d0d0d0" stroke-width="0.7"/>
<path d="M455.50 290.40H453.40V293.00H455.50" fill="none" stroke="#d0d0d0" stroke-width="0.7"/>
<path d="M495.70 290.40H497.80V293.00H495.70" fill="none" stroke="#d0d0d0" stroke-width="0.7"/>
<path d="M455.50 294.30H453.40V296.90H455.50" fill="none" stroke="#d0d0d0" stroke-width="0.7"/>
<path d="M495.70 294.30H497.80V296.90H495.70" fill="none" stroke="#d0d0d0" stroke-width="0.7"/>
<rect x="503.60" y="266.30" width="37.10" height="35.90" fill="#3c3937" stroke="#8c8884" stroke-width="0.8"/>
<rect x="505.10" y="267.80" width="34.10" height="32.90" fill="#141312"/>
<circle cx="522.65" cy="283.80" r="8" fill="#2c2c2c" stroke="#555" stroke-width="0.8"/>
<circle cx="522.65" cy="283.80" r="5" fill="#3e3e3e"/>
<rect x="520.65" y="283.00" width="4" height="1.6" fill="#777"/>
<path d="M522.65 270.80l2 2h-4z" fill="#ddd"/>
<rect x="519.65" y="294.80" width="6" height="1" fill="#bbb"/><rect x="519.65" y="297.30" width="6" height="1.2" fill="#999"/>
<rect x="507.60" y="277.80" width="4.5" height="4.2" fill="#e0b020"/>
<rect x="508.60" y="278.80" width="2.5" height="2.2" fill="#f0d060"/>
<rect x="507.60" y="287.30" width="4.5" height="4.2" fill="#e0b020"/>
<rect x="508.60" y="288.30" width="2.5" height="2.2" fill="#f0d060"/>
<rect x="532.20" y="277.80" width="4.5" height="4.2" fill="#e0b020"/>
<rect x="533.20" y="278.80" width="2.5" height="2.2" fill="#f0d060"/>
<rect x="532.20" y="287.30" width="4.5" height="4.2" fill="#e0b020"/>
<rect x="533.20" y="288.30" width="2.5" height="2.2" fill="#f0d060"/>
<rect x="506.60" y="271.30" width="5" height="0.8" fill="#777"/>
<rect x="566.30" y="266.30" width="54.30" height="35.90" fill="#3a3836" stroke="#7a7672" stroke-width="0.8"/>
<rect x="567.90" y="267.90" width="51.10" height="32.70" fill="#080808" stroke="#9a9a9a" stroke-width="0.5"/>
<rect x="570.30" y="270.00" width="46.30" height="13.40" fill="#0c0c0c" stroke="#4a4a4a" stroke-width="0.6"/>
<rect x="586.45" y="269.70" width="14.00" height="0.9" fill="#c8c8c8"/>
<path d="M576.60 272.60l2.4 2.4m0 -2.4l-2.4 2.4" stroke="#4c4c4c" stroke-width="0.8"/>
<path d="M582.86 272.60l2.4 2.4m0 -2.4l-2.4 2.4" stroke="#4c4c4c" stroke-width="0.8"/>
<path d="M589.12 272.60l2.4 2.4m0 -2.4l-2.4 2.4" stroke="#4c4c4c" stroke-width="0.8"/>
<path d="M595.38 272.60l2.4 2.4m0 -2.4l-2.4 2.4" stroke="#4c4c4c" stroke-width="0.8"/>
<path d="M601.64 272.60l2.4 2.4m0 -2.4l-2.4 2.4" stroke="#4c4c4c" stroke-width="0.8"/>
<path d="M607.90 272.60l2.4 2.4m0 -2.4l-2.4 2.4" stroke="#4c4c4c" stroke-width="0.8"/>
<path d="M576.60 278.20l2.4 2.4m0 -2.4l-2.4 2.4" stroke="#4c4c4c" stroke-width="0.8"/>
<path d="M582.86 278.20l2.4 2.4m0 -2.4l-2.4 2.4" stroke="#4c4c4c" stroke-width="0.8"/>
<path d="M589.12 278.20l2.4 2.4m0 -2.4l-2.4 2.4" stroke="#4c4c4c" stroke-width="0.8"/>
<path d="M595.38 278.20l2.4 2.4m0 -2.4l-2.4 2.4" stroke="#4c4c4c" stroke-width="0.8"/>
<path d="M601.64 278.20l2.4 2.4m0 -2.4l-2.4 2.4" stroke="#4c4c4c" stroke-width="0.8"/>
<path d="M607.90 278.20l2.4 2.4m0 -2.4l-2.4 2.4" stroke="#4c4c4c" stroke-width="0.8"/>
<path d="M573.60 271.20H571.50V273.80H573.60" fill="none" stroke="#d0d0d0" stroke-width="0.7"/>
<path d="M613.30 271.20H615.40V273.80H613.30" fill="none" stroke="#d0d0d0" stroke-width="0.7"/>
<path d="M573.60 275.10H571.50V277.70H573.60" fill="none" stroke="#d0d0d0" stroke-width="0.7"/>
<path d="M613.30 275.10H615.40V277.70H613.30" fill="none" stroke="#d0d0d0" stroke-width="0.7"/>
<path d="M573.60 279.00H571.50V281.60H573.60" fill="none" stroke="#d0d0d0" stroke-width="0.7"/>
<path d="M613.30 279.00H615.40V281.60H613.30" fill="none" stroke="#d0d0d0" stroke-width="0.7"/>
<rect x="570.30" y="285.30" width="46.30" height="12.60" fill="#0c0c0c" stroke="#4a4a4a" stroke-width="0.6"/>
<rect x="586.45" y="285.00" width="14.00" height="0.9" fill="#c8c8c8"/>
<path d="M576.60 287.90l2.4 2.4m0 -2.4l-2.4 2.4" stroke="#4c4c4c" stroke-width="0.8"/>
<path d="M582.86 287.90l2.4 2.4m0 -2.4l-2.4 2.4" stroke="#4c4c4c" stroke-width="0.8"/>
<path d="M589.12 287.90l2.4 2.4m0 -2.4l-2.4 2.4" stroke="#4c4c4c" stroke-width="0.8"/>
<path d="M595.38 287.90l2.4 2.4m0 -2.4l-2.4 2.4" stroke="#4c4c4c" stroke-width="0.8"/>
<path d="M601.64 287.90l2.4 2.4m0 -2.4l-2.4 2.4" stroke="#4c4c4c" stroke-width="0.8"/>
<path d="M607.90 287.90l2.4 2.4m0 -2.4l-2.4 2.4" stroke="#4c4c4c" stroke-width="0.8"/>
<path d="M576.60 293.50l2.4 2.4m0 -2.4l-2.4 2.4" stroke="#4c4c4c" stroke-width="0.8"/>
<path d="M582.86 293.50l2.4 2.4m0 -2.4l-2.4 2.4" stroke="#4c4c4c" stroke-width="0.8"/>
<path d="M589.12 293.50l2.4 2.4m0 -2.4l-2.4 2.4" stroke="#4c4c4c" stroke-width="0.8"/>
<path d="M595.38 293.50l2.4 2.4m0 -2.4l-2.4 2.4" stroke="#4c4c4c" stroke-width="0.8"/>
<path d="M601.64 293.50l2.4 2.4m0 -2.4l-2.4 2.4" stroke="#4c4c4c" stroke-width="0.8"/>
<path d="M607.90 293.50l2.4 2.4m0 -2.4l-2.4 2.4" stroke="#4c4c4c" stroke-width="0.8"/>
<path d="M573.60 286.50H571.50V289.10H573.60" fill="none" stroke="#d0d0d0" stroke-width="0.7"/>
<path d="M613.30 286.50H615.40V289.10H613.30" fill="none" stroke="#d0d0d0" stroke-width="0.7"/>
<path d="M573.60 290.40H571.50V293.00H573.60" fill="none" stroke="#d0d0d0" stroke-width="0.7"/>
<path d="M613.30 290.40H615.40V293.00H613.30" fill="none" stroke="#d0d0d0" stroke-width="0.7"/>
<path d="M573.60 294.30H571.50V296.90H573.60" fill="none" stroke="#d0d0d0" stroke-width="0.7"/>
<path d="M613.30 294.30H615.40V296.90H613.30" fill="none" stroke="#d0d0d0" stroke-width="0.7"/>
<rect x="621.40" y="266.30" width="56.60" height="35.90" fill="#3a3836" stroke="#7a7672" stroke-width="0.8"/>
<rect x="623.00" y="267.90" width="53.40" height="32.70" fill="#080808" stroke="#9a9a9a" stroke-width="0.5"/>
<rect x="625.40" y="270.00" width="48.60" height="13.40" fill="#0c0c0c" stroke="#4a4a4a" stroke-width="0.6"/>
<rect x="642.70" y="269.70" width="14.00" height="0.9" fill="#c8c8c8"/>
<path d="M631.70 272.60l2.4 2.4m0 -2.4l-2.4 2.4" stroke="#4c4c4c" stroke-width="0.8"/>
<path d="M638.42 272.60l2.4 2.4m0 -2.4l-2.4 2.4" stroke="#4c4c4c" stroke-width="0.8"/>
<path d="M645.14 272.60l2.4 2.4m0 -2.4l-2.4 2.4" stroke="#4c4c4c" stroke-width="0.8"/>
<path d="M651.86 272.60l2.4 2.4m0 -2.4l-2.4 2.4" stroke="#4c4c4c" stroke-width="0.8"/>
<path d="M658.58 272.60l2.4 2.4m0 -2.4l-2.4 2.4" stroke="#4c4c4c" stroke-width="0.8"/>
<path d="M665.30 272.60l2.4 2.4m0 -2.4l-2.4 2.4" stroke="#4c4c4c" stroke-width="0.8"/>
<path d="M631.70 278.20l2.4 2.4m0 -2.4l-2.4 2.4" stroke="#4c4c4c" stroke-width="0.8"/>
<path d="M638.42 278.20l2.4 2.4m0 -2.4l-2.4 2.4" stroke="#4c4c4c" stroke-width="0.8"/>
<path d="M645.14 278.20l2.4 2.4m0 -2.4l-2.4 2.4" stroke="#4c4c4c" stroke-width="0.8"/>
<path d="M651.86 278.20l2.4 2.4m0 -2.4l-2.4 2.4" stroke="#4c4c4c" stroke-width="0.8"/>
<path d="M658.58 278.20l2.4 2.4m0 -2.4l-2.4 2.4" stroke="#4c4c4c" stroke-width="0.8"/>
<path d="M665.30 278.20l2.4 2.4m0 -2.4l-2.4 2.4" stroke="#4c4c4c" stroke-width="0.8"/>
<path d="M628.70 271.20H626.60V273.80H628.70" fill="none" stroke="#d0d0d0" stroke-width="0.7"/>
<path d="M670.70 271.20H672.80V273.80H670.70" fill="none" stroke="#d0d0d0" stroke-width="0.7"/>
<path d="M628.70 275.10H626.60V277.70H628.70" fill="none" stroke="#d0d0d0" stroke-width="0.7"/>
<path d="M670.70 275.10H672.80V277.70H670.70" fill="none" stroke="#d0d0d0" stroke-width="0.7"/>
<path d="M628.70 279.00H626.60V281.60H628.70" fill="none" stroke="#d0d0d0" stroke-width="0.7"/>
<path d="M670.70 279.00H672.80V281.60H670.70" fill="none" stroke="#d0d0d0" stroke-width="0.7"/>
<rect x="625.40" y="285.30" width="48.60" height="12.60" fill="#0c0c0c" stroke="#4a4a4a" stroke-width="0.6"/>
<rect x="642.70" y="285.00" width="14.00" height="0.9" fill="#c8c8c8"/>
<path d="M631.70 287.90l2.4 2.4m0 -2.4l-2.4 2.4" stroke="#4c4c4c" stroke-width="0.8"/>
<path d="M638.42 287.90l2.4 2.4m0 -2.4l-2.4 2.4" stroke="#4c4c4c" stroke-width="0.8"/>
<path d="M645.14 287.90l2.4 2.4m0 -2.4l-2.4 2.4" stroke="#4c4c4c" stroke-width="0.8"/>
<path d="M651.86 287.90l2.4 2.4m0 -2.4l-2.4 2.4" stroke="#4c4c4c" stroke-width="0.8"/>
<path d="M658.58 287.90l2.4 2.4m0 -2.4l-2.4 2.4" stroke="#4c4c4c" stroke-width="0.8"/>
<path d="M665.30 287.90l2.4 2.4m0 -2.4l-2.4 2.4" stroke="#4c4c4c" stroke-width="0.8"/>
<path d="M631.70 293.50l2.4 2.4m0 -2.4l-2.4 2.4" stroke="#4c4c4c" stroke-width="0.8"/>
<path d="M638.42 293.50l2.4 2.4m0 -2.4l-2.4 2.4" stroke="#4c4c4c" stroke-width="0.8"/>
<path d="M645.14 293.50l2.4 2.4m0 -2.4l-2.4 2.4" stroke="#4c4c4c" stroke-width="0.8"/>
<path d="M651.86 293.50l2.4 2.4m0 -2.4l-2.4 2.4" stroke="#4c4c4c" stroke-width="0.8"/>
<path d="M658.58 293.50l2.4 2.4m0 -2.4l-2.4 2.4" stroke="#4c4c4c" stroke-width="0.8"/>
<path d="M665.30 293.50l2.4 2.4m0 -2.4l-2.4 2.4" stroke="#4c4c4c" stroke-width="0.8"/>
<path d="M628.70 286.50H626.60V289.10H628.70" fill="none" stroke="#d0d0d0" stroke-width="0.7"/>
<path d="M670.70 286.50H672.80V289.10H670.70" fill="none" stroke="#d0d0d0" stroke-width="0.7"/>
<path d="M628.70 290.40H626.60V293.00H628.70" fill="none" stroke="#d0d0d0" stroke-width="0.7"/>
<path d="M670.70 290.40H672.80V293.00H670.70" fill="none" stroke="#d0d0d0" stroke-width="0.7"/>
<path d="M628.70 294.30H626.60V296.90H628.70" fill="none" stroke="#d0d0d0" stroke-width="0.7"/>
<path d="M670.70 294.30H672.80V296.90H670.70" fill="none" stroke="#d0d0d0" stroke-width="0.7"/>
</svg><svg width="730" height="444" style="left:0;top:0">
<defs>
<linearGradient id="gDome" x1="0" y1="0" x2="0" y2="1"><stop offset="0" stop-color="#f4f4f4"/><stop offset="1" stop-color="#c9c9c9"/></linearGradient>
<linearGradient id="gRod" x1="0" y1="0" x2="1" y2="0"><stop offset="0" stop-color="#6a6a6a"/><stop offset="0.5" stop-color="#b8b8b8"/><stop offset="1" stop-color="#6a6a6a"/></linearGradient>
<linearGradient id="gBox" x1="0" y1="0" x2="1" y2="0"><stop offset="0" stop-color="#a0a0a0"/><stop offset="0.1" stop-color="#e6e6e6"/><stop offset="0.3" stop-color="#d2d2d2"/><stop offset="0.85" stop-color="#c2c2c2"/><stop offset="1" stop-color="#a8a8a8"/></linearGradient>
<linearGradient id="gCyl" x1="0" y1="0" x2="1" y2="0"><stop offset="0" stop-color="#d0d0d0"/><stop offset="0.5" stop-color="#ececec"/><stop offset="1" stop-color="#c8c8c8"/></linearGradient>
<linearGradient id="gHull" x1="0" y1="0" x2="0" y2="1"><stop offset="0" stop-color="#d4d4d4"/><stop offset="0.6" stop-color="#bdbdbd"/><stop offset="1" stop-color="#8e8e8e"/></linearGradient>
<radialGradient id="gAis" cx="0.6" cy="0.35" r="0.8"><stop offset="0" stop-color="#5a5856"/><stop offset="1" stop-color="#363432"/></radialGradient>
<linearGradient id="gBot" x1="0" y1="0" x2="1" y2="0"><stop offset="0" stop-color="#8a8a8a"/><stop offset="0.5" stop-color="#dedede"/><stop offset="1" stop-color="#8a8a8a"/></linearGradient>
<radialGradient id="gCup" cx="0.5" cy="0.5" r="0.5"><stop offset="0" stop-color="#6a6a6a"/><stop offset="1" stop-color="#2e2e2e"/></radialGradient>
</defs>
<path d="M36.60 383.3L38.60 377Q38.80 375.6 40.00 375.6H49.60Q50.80 375.6 51.00 377L53.00 383.3Z" fill="url(#gDome)" stroke="#555" stroke-width="0.7"/>
<rect x="36.30" y="383.3" width="17" height="1.1" fill="#444"/>
<rect x="31.90" y="384.3" width="26" height="3.3" rx="0.8" fill="#dc8e8e" stroke="#6a4a4a" stroke-width="0.6"/>
<rect x="32.40" y="386" width="25" height="1.3" fill="#eec0c0"/>
<path d="M40.40 387.6H49.20V389Q49.20 391 47.30 391H42.30Q40.40 391 40.40 389Z" fill="#f2f2f2" stroke="#999" stroke-width="0.5"/>
<rect x="43.30" y="390.6" width="3.6" height="21" fill="url(#gRod)" stroke="#555" stroke-width="0.4"/>
<path d="M117.10 383.3L119.10 377Q119.30 375.6 120.50 375.6H130.10Q131.30 375.6 131.50 377L133.50 383.3Z" fill="url(#gDome)" stroke="#555" stroke-width="0.7"/>
<rect x="116.80" y="383.3" width="17" height="1.1" fill="#444"/>
<rect x="112.40" y="384.3" width="26" height="3.3" rx="0.8" fill="#dc8e8e" stroke="#6a4a4a" stroke-width="0.6"/>
<rect x="112.90" y="386" width="25" height="1.3" fill="#eec0c0"/>
<path d="M120.90 387.6H129.70V389Q129.70 391 127.80 391H122.80Q120.90 391 120.90 389Z" fill="#f2f2f2" stroke="#999" stroke-width="0.5"/>
<rect x="123.80" y="390.6" width="3.6" height="21" fill="url(#gRod)" stroke="#555" stroke-width="0.4"/>
<rect x="195.20" y="377.5" width="21.2" height="34" fill="url(#gBox)"/>
<path d="M195.20 378.6L196.70 376H214.90L216.40 378.6Z" fill="#3a3434"/>
<rect x="195.20" y="410.3" width="21.2" height="4.2" fill="#403a3a"/>
<rect x="197.80" y="382" width="0.9" height="26" fill="#60c8e0"/>
<rect x="195.20" y="378.6" width="0.6" height="31.7" fill="#888"/>
<circle cx="206.00" cy="389.5" r="5.3" fill="#2a2a2a" stroke="#555" stroke-width="0.5"/>
<path d="M202.00 389.5h8m-4 -4v8M203.50 387h5M203.50 392h5M204.00 387v5M208.00 387v5" stroke="#4a4a4a" stroke-width="0.5"/>
<rect x="276.00" y="377.5" width="21.2" height="34" fill="url(#gBox)"/>
<path d="M276.00 378.6L277.50 376H295.70L297.20 378.6Z" fill="#3a3434"/>
<rect x="276.00" y="410.3" width="21.2" height="4.2" fill="#403a3a"/>
<rect x="278.60" y="382" width="0.9" height="26" fill="#60c8e0"/>
<rect x="276.00" y="378.6" width="0.6" height="31.7" fill="#888"/>
<circle cx="286.80" cy="389.5" r="5.3" fill="#2a2a2a" stroke="#555" stroke-width="0.5"/>
<path d="M282.80 389.5h8m-4 -4v8M284.30 387h5M284.30 392h5M284.80 387v5M288.80 387v5" stroke="#4a4a4a" stroke-width="0.5"/>
<rect x="366.00" y="375" width="2.6" height="8.5" fill="#888" stroke="#555" stroke-width="0.4"/>
<rect x="364.10" y="382.9" width="6.2" height="4" fill="#1a1a1a"/>
<rect x="359.70" y="386.9" width="15" height="12.6" fill="url(#gCyl)"/>
<path d="M341.10 399.6H392.90Q387.10 413.5 367.10 413.5Q347.10 413.5 341.10 399.6Z" fill="url(#gHull)" stroke="#777" stroke-width="0.6"/>
<ellipse cx="349.70" cy="406.3" rx="3.6" ry="2" fill="#3e3e3e" transform="rotate(20 349.70 406.3)"/>
<ellipse cx="367.10" cy="409.8" rx="3.8" ry="1.9" fill="#3e3e3e"/>
<ellipse cx="384.10" cy="406.3" rx="3.6" ry="2" fill="#3e3e3e" transform="rotate(-20 384.10 406.3)"/>
<rect x="446.50" y="375" width="2.6" height="8.5" fill="#888" stroke="#555" stroke-width="0.4"/>
<rect x="444.60" y="382.9" width="6.2" height="4" fill="#1a1a1a"/>
<rect x="440.20" y="386.9" width="15" height="12.6" fill="url(#gCyl)"/>
<path d="M421.60 399.6H473.40Q467.60 413.5 447.60 413.5Q427.60 413.5 421.60 399.6Z" fill="url(#gHull)" stroke="#777" stroke-width="0.6"/>
<ellipse cx="430.20" cy="406.3" rx="3.6" ry="2" fill="#3e3e3e" transform="rotate(20 430.20 406.3)"/>
<ellipse cx="447.60" cy="409.8" rx="3.8" ry="1.9" fill="#3e3e3e"/>
<ellipse cx="464.60" cy="406.3" rx="3.6" ry="2" fill="#3e3e3e" transform="rotate(-20 464.60 406.3)"/>
<rect x="502.8" y="375.9" width="50.8" height="33.8" rx="2.5" fill="url(#gAis)" stroke="#2a2a2a" stroke-width="0.6"/>
<rect x="535.8" y="378.6" width="12" height="3.4" fill="#bdbdbd"/><rect x="537" y="379.6" width="9.5" height="1.3" fill="#6a6a6a"/>
<circle cx="509.8" cy="404.3" r="2" fill="#60b0e8"/><circle cx="505.2" cy="378.6" r="0.9" fill="#777"/><circle cx="551" cy="378.6" r="0.9" fill="#777"/><circle cx="551" cy="407" r="0.9" fill="#777"/><circle cx="505.2" cy="407" r="0.9" fill="#777"/>
<rect x="508.5" y="410.3" width="6" height="2.6" rx="1" fill="#d8ccb0"/>
<rect x="517.5" y="410.3" width="6" height="2.6" rx="1" fill="#d8ccb0"/>
<rect x="526.5" y="410.3" width="6" height="2.6" rx="1" fill="#d8ccb0"/>
<rect x="535.5" y="410.3" width="6" height="2.6" rx="1" fill="#d8ccb0"/>
<path d="M608.7 362.5V369" stroke="#666" stroke-width="0.9"/><rect x="607.4" y="368.5" width="2.6" height="5" fill="#999" stroke="#666" stroke-width="0.4"/>
<rect x="605.8" y="373.4" width="5.8" height="3.3" fill="#1a1a1a"/><path d="M603.3 379.2L604.5 376.5H613L614.2 379.2Z" fill="#1e1e1e"/>
<rect x="596.3" y="378.5" width="25.3" height="26.4" rx="3" fill="#3a3533" stroke="#1e1a18" stroke-width="0.6"/>
<path d="M597 405Q609 411 621 405" fill="#e8e8e8" stroke="#555" stroke-width="0.6"/>
<path d="M600 408.5Q609 413 618 408.5M602.5 411.5Q609 415 615.5 411.5M605 414.2Q609 416 613 414.2" fill="none" stroke="#4a4a4a" stroke-width="0.6"/>
<path d="M682 380.5H697" stroke="#7a7a7a" stroke-width="1"/>
<circle cx="677.4" cy="380.5" r="4.5" fill="url(#gCup)"/><circle cx="701.3" cy="380.5" r="4.5" fill="url(#gCup)"/>
<rect x="687.3" y="378" width="4.2" height="8.6" fill="#151515"/>
<path d="M687.3 386.5H691.5L694.7 392.5V410H684.3V392.5Z" fill="url(#gBot)" stroke="#555" stroke-width="0.5"/>
<path d="M684.5 410H694.6V412.5Q694.6 414.5 689.5 414.5Q684.5 414.5 684.5 412.5Z" fill="#141414"/>
</svg><div class="b" style="left:196.02px;top:5.79px;width:97.56px;font-size:12.00px;line-height:12.00px;transform:scaleX(0.7790);transform-origin:center;">S-BAND Antenna</div>
<div class="b" style="left:421.97px;top:6.09px;width:97.56px;font-size:12.00px;line-height:12.00px;transform:scaleX(0.7790);transform-origin:center;">X-BAND Antenna</div>
<div class="b" style="left:95.56px;top:206.65px;width:32.39px;font-size:11.00px;line-height:11.00px;transform:scaleX(0.8244);transform-origin:center;">AMCS</div>
<div class="b" style="left:55.31px;top:217.65px;width:112.87px;font-size:11.00px;line-height:11.00px;transform:scaleX(0.8053);transform-origin:center;">Operator Workstation</div>
<div class="b" style="left:207.21px;top:206.65px;width:64.18px;font-size:11.00px;line-height:11.00px;transform:scaleX(0.8507);transform-origin:center;">ARPA Radar</div>
<div class="b" style="left:182.86px;top:217.65px;width:112.87px;font-size:11.00px;line-height:11.00px;transform:scaleX(0.8505);transform-origin:center;">Operator Workstation</div>
<div class="b" style="left:344.20px;top:206.65px;width:44.60px;font-size:11.00px;line-height:11.00px;transform:scaleX(0.8364);transform-origin:center;">Conning</div>
<div class="b" style="left:310.06px;top:217.65px;width:112.87px;font-size:11.00px;line-height:11.00px;transform:scaleX(0.8505);transform-origin:center;">Operator Workstation</div>
<div class="b" style="left:477.69px;top:206.65px;width:33.62px;font-size:11.00px;line-height:11.00px;transform:scaleX(0.7913);transform-origin:center;">ECDIS</div>
<div class="b" style="left:438.06px;top:217.65px;width:112.87px;font-size:11.00px;line-height:11.00px;transform:scaleX(0.8550);transform-origin:center;">Operator Workstation</div>
<div class="b" style="left:605.56px;top:206.65px;width:32.39px;font-size:11.00px;line-height:11.00px;transform:scaleX(0.7873);transform-origin:center;">AMCS</div>
<div class="b" style="left:565.31px;top:217.65px;width:112.87px;font-size:11.00px;line-height:11.00px;transform:scaleX(0.8107);transform-origin:center;">Operator Workstation</div>
<div class="b" style="left:43.91px;top:323.85px;width:136.49px;font-size:11.00px;line-height:11.00px;transform:scaleX(0.7935);transform-origin:center;">Nav. Light, Window Wiper,</div>
<div class="b" style="left:49.68px;top:334.85px;width:124.05px;font-size:11.00px;line-height:11.00px;transform:scaleX(0.7900);transform-origin:center;">Horn and Pump Control</div>
<div class="b" style="left:217.30px;top:323.85px;width:43.39px;font-size:11.00px;line-height:11.00px;transform:scaleX(0.8457);transform-origin:center;">Heading</div>
<div class="b" style="left:198.85px;top:334.85px;width:81.29px;font-size:11.00px;line-height:11.00px;transform:scaleX(0.8488);transform-origin:center;">Control System</div>
<div class="b" style="left:338.03px;top:323.85px;width:57.45px;font-size:11.00px;line-height:11.00px;transform:scaleX(0.8617);transform-origin:center;">Propulsion</div>
<div class="b" style="left:325.85px;top:334.85px;width:81.29px;font-size:11.00px;line-height:11.00px;transform:scaleX(0.8611);transform-origin:center;">Control System</div>
<div class="b" style="left:468.07px;top:323.85px;width:52.56px;font-size:11.00px;line-height:11.00px;transform:scaleX(0.8467);transform-origin:center;">CCTV and</div>
<div class="b" style="left:439.86px;top:334.85px;width:108.78px;font-size:11.00px;line-height:11.00px;transform:scaleX(0.8540);transform-origin:center;">Search Light Control</div>
<div class="b" style="left:559.34px;top:323.85px;width:124.61px;font-size:11.00px;line-height:11.00px;transform:scaleX(0.8081);transform-origin:center;">Windlass, Fire Dampers</div>
<div class="b" style="left:582.78px;top:334.85px;width:78.23px;font-size:11.00px;line-height:11.00px;transform:scaleX(0.8027);transform-origin:center;">and Ventilation</div>
<div class="b" style="left:13.42px;top:168.75px;width:25.06px;font-size:11.00px;line-height:11.00px;transform:scaleX(0.7862);transform-origin:center;">Main</div>
<div class="b" style="left:8.27px;top:181.15px;width:35.45px;font-size:11.00px;line-height:11.00px;transform:scaleX(0.7786);transform-origin:center;">Switch</div>
<div class="b" style="left:689.48px;top:168.75px;width:39.74px;font-size:11.00px;line-height:11.00px;transform:scaleX(0.7877);transform-origin:center;">Backup</div>
<div class="b" style="left:691.17px;top:181.05px;width:35.45px;font-size:11.00px;line-height:11.00px;transform:scaleX(0.7955);transform-origin:center;">Switch</div>
<div class="b" style="left:26.07px;top:428.43px;width:36.86px;font-size:9.90px;line-height:9.90px;transform:scaleX(0.7705);transform-origin:center;">DGPS-1</div>
<div class="b" style="left:106.72px;top:428.43px;width:36.86px;font-size:9.90px;line-height:9.90px;transform:scaleX(0.7678);transform-origin:center;">DGPS-2</div>
<div class="b" style="left:188.02px;top:428.43px;width:37.96px;font-size:9.90px;line-height:9.90px;transform:scaleX(0.7535);transform-origin:center;">GYRO-1</div>
<div class="b" style="left:261.64px;top:428.43px;width:49.32px;font-size:9.90px;line-height:9.90px;transform:scaleX(0.7583);transform-origin:center;">COMPASS</div>
<div class="b" style="left:259.75px;top:418.73px;width:52.80px;font-size:9.90px;line-height:9.90px;transform:scaleX(0.7633);transform-origin:center;">MAGNETIC</div>
<div class="b" style="left:351.87px;top:428.43px;width:30.25px;font-size:9.90px;line-height:9.90px;transform:scaleX(0.7305);transform-origin:center;">LOG-1</div>
<div class="b" style="left:350.22px;top:418.73px;width:33.56px;font-size:9.90px;line-height:9.90px;transform:scaleX(0.7747);transform-origin:center;">SPEED</div>
<div class="b" style="left:432.47px;top:428.43px;width:30.25px;font-size:9.90px;line-height:9.90px;transform:scaleX(0.7305);transform-origin:center;">LOG-2</div>
<div class="b" style="left:430.82px;top:418.73px;width:33.56px;font-size:9.90px;line-height:9.90px;transform:scaleX(0.7747);transform-origin:center;">SPEED</div>
<div class="b" style="left:519.95px;top:428.43px;width:16.50px;font-size:9.90px;line-height:9.90px;transform:scaleX(0.7514);transform-origin:center;">AIS</div>
<div class="b" style="left:583.85px;top:428.43px;width:49.50px;font-size:9.90px;line-height:9.90px;transform:scaleX(0.7555);transform-origin:center;">SOUNDER</div>
<div class="b" style="left:594.20px;top:418.73px;width:28.60px;font-size:9.90px;line-height:9.90px;transform:scaleX(0.7587);transform-origin:center;">ECHO</div>
<div class="b" style="left:653.40px;top:428.43px;width:71.50px;font-size:9.90px;line-height:9.90px;transform:scaleX(0.7650);transform-origin:center;">ANEMOMETER</div>
<div class="r" style="left:116.99px;top:61.97px;width:34.02px;font-size:9.00px;line-height:9.00px;transform:scaleX(0.9523);transform-origin:center;">Ethernet</div>
<div class="r" style="left:116.99px;top:75.07px;width:34.02px;font-size:9.00px;line-height:9.00px;transform:scaleX(0.9523);transform-origin:center;">Ethernet</div>
<div class="r" style="left:566.99px;top:62.17px;width:34.02px;font-size:9.00px;line-height:9.00px;transform:scaleX(0.9523);transform-origin:center;">Ethernet</div>
<div class="r" style="left:566.99px;top:75.07px;width:34.02px;font-size:9.00px;line-height:9.00px;transform:scaleX(0.9523);transform-origin:center;">Ethernet</div>
<div class="r" style="left:55.59px;top:95.57px;width:34.02px;font-size:9.00px;line-height:9.00px;transform:scaleX(0.9523);transform-origin:center;">Ethernet</div>
<div class="r" style="left:157.89px;top:95.57px;width:34.02px;font-size:9.00px;line-height:9.00px;transform:scaleX(0.9523);transform-origin:center;">Ethernet</div>
<div class="r" style="left:285.99px;top:95.57px;width:34.02px;font-size:9.00px;line-height:9.00px;transform:scaleX(0.9523);transform-origin:center;">Ethernet</div>
<div class="r" style="left:413.29px;top:95.57px;width:34.02px;font-size:9.00px;line-height:9.00px;transform:scaleX(0.9523);transform-origin:center;">Ethernet</div>
<div class="r" style="left:540.49px;top:95.57px;width:34.02px;font-size:9.00px;line-height:9.00px;transform:scaleX(0.9523);transform-origin:center;">Ethernet</div>
<div class="r" style="left:643.89px;top:95.57px;width:34.02px;font-size:9.00px;line-height:9.00px;transform:scaleX(0.9523);transform-origin:center;">Ethernet</div>
<div class="r" style="left:55.79px;top:309.47px;width:34.02px;font-size:9.00px;line-height:9.00px;transform:scaleX(0.9523);transform-origin:center;">Ethernet</div>
<div class="r" style="left:285.69px;top:309.47px;width:34.02px;font-size:9.00px;line-height:9.00px;transform:scaleX(0.9523);transform-origin:center;">Ethernet</div>
<div class="r" style="left:413.29px;top:309.47px;width:34.02px;font-size:9.00px;line-height:9.00px;transform:scaleX(0.9523);transform-origin:center;">Ethernet</div>
<div class="r" style="left:643.89px;top:309.47px;width:34.02px;font-size:9.00px;line-height:9.00px;transform:scaleX(0.9523);transform-origin:center;">Ethernet</div>
<div class="r" style="left:331.99px;top:351.57px;width:70.03px;font-size:9.00px;line-height:9.00px;transform:scaleX(0.9568);transform-origin:center;">NMEA Serial Link</div>
<div class="r" style="left:92.67px;top:114.89px;width:4.67px;font-size:7.00px;line-height:7.00px;">A</div>
<div class="r" style="left:124.67px;top:114.89px;width:4.67px;font-size:7.00px;line-height:7.00px;">B</div>
<div class="r" style="left:220.67px;top:114.89px;width:4.67px;font-size:7.00px;line-height:7.00px;">A</div>
<div class="r" style="left:252.17px;top:114.89px;width:4.67px;font-size:7.00px;line-height:7.00px;">B</div>
<div class="r" style="left:348.17px;top:114.89px;width:4.67px;font-size:7.00px;line-height:7.00px;">A</div>
<div class="r" style="left:379.67px;top:114.89px;width:4.67px;font-size:7.00px;line-height:7.00px;">B</div>
<div class="r" style="left:475.67px;top:114.89px;width:4.67px;font-size:7.00px;line-height:7.00px;">A</div>
<div class="r" style="left:507.17px;top:114.89px;width:4.67px;font-size:7.00px;line-height:7.00px;">B</div>
<div class="r" style="left:603.17px;top:114.89px;width:4.67px;font-size:7.00px;line-height:7.00px;">A</div>
<div class="r" style="left:634.67px;top:114.89px;width:4.67px;font-size:7.00px;line-height:7.00px;">B</div>
<div class="r" style="left:92.67px;top:305.49px;width:4.67px;font-size:7.00px;line-height:7.00px;">A</div>
<div class="r" style="left:124.67px;top:305.49px;width:4.67px;font-size:7.00px;line-height:7.00px;">B</div>
<div class="r" style="left:220.67px;top:305.49px;width:4.67px;font-size:7.00px;line-height:7.00px;">A</div>
<div class="r" style="left:252.17px;top:305.49px;width:4.67px;font-size:7.00px;line-height:7.00px;">B</div>
<div class="r" style="left:348.17px;top:305.49px;width:4.67px;font-size:7.00px;line-height:7.00px;">A</div>
<div class="r" style="left:379.67px;top:305.49px;width:4.67px;font-size:7.00px;line-height:7.00px;">B</div>
<div class="r" style="left:475.67px;top:305.49px;width:4.67px;font-size:7.00px;line-height:7.00px;">A</div>
<div class="r" style="left:507.17px;top:305.49px;width:4.67px;font-size:7.00px;line-height:7.00px;">B</div>
<div class="r" style="left:603.17px;top:305.49px;width:4.67px;font-size:7.00px;line-height:7.00px;">A</div>
<div class="r" style="left:634.67px;top:305.49px;width:4.67px;font-size:7.00px;line-height:7.00px;">B</div></div>
</body></html>
